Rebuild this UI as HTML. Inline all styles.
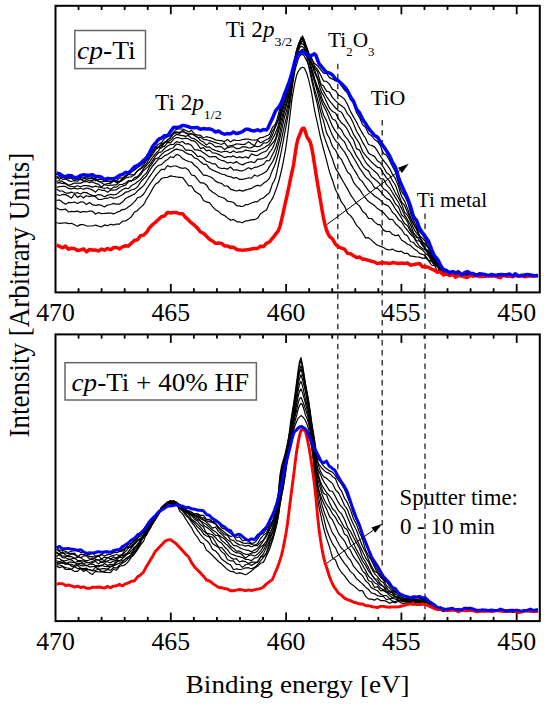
<!DOCTYPE html>
<html><head><meta charset="utf-8"><style>
html,body{margin:0;padding:0;background:#fff;overflow:hidden;}
svg{display:block;}
text{font-family:"Liberation Serif",serif;fill:#000;}
</style></head><body>
<svg width="544" height="707" viewBox="0 0 544 707">
<rect width="544" height="707" fill="#fff"/>
<rect x="55.5" y="5.8" width="484.29999999999995" height="286.59999999999997" fill="none" stroke="#000" stroke-width="2"/>
<line x1="78.56" y1="292.4" x2="78.56" y2="288.2" stroke="#000" stroke-width="1.8"/>
<line x1="78.56" y1="5.8" x2="78.56" y2="10.0" stroke="#000" stroke-width="1.8"/>
<line x1="101.62" y1="292.4" x2="101.62" y2="288.2" stroke="#000" stroke-width="1.8"/>
<line x1="101.62" y1="5.8" x2="101.62" y2="10.0" stroke="#000" stroke-width="1.8"/>
<line x1="124.68" y1="292.4" x2="124.68" y2="288.2" stroke="#000" stroke-width="1.8"/>
<line x1="124.68" y1="5.8" x2="124.68" y2="10.0" stroke="#000" stroke-width="1.8"/>
<line x1="147.74" y1="292.4" x2="147.74" y2="288.2" stroke="#000" stroke-width="1.8"/>
<line x1="147.74" y1="5.8" x2="147.74" y2="10.0" stroke="#000" stroke-width="1.8"/>
<line x1="170.80" y1="292.4" x2="170.80" y2="283.9" stroke="#000" stroke-width="1.8"/>
<line x1="170.80" y1="5.8" x2="170.80" y2="14.3" stroke="#000" stroke-width="1.8"/>
<line x1="193.86" y1="292.4" x2="193.86" y2="288.2" stroke="#000" stroke-width="1.8"/>
<line x1="193.86" y1="5.8" x2="193.86" y2="10.0" stroke="#000" stroke-width="1.8"/>
<line x1="216.92" y1="292.4" x2="216.92" y2="288.2" stroke="#000" stroke-width="1.8"/>
<line x1="216.92" y1="5.8" x2="216.92" y2="10.0" stroke="#000" stroke-width="1.8"/>
<line x1="239.98" y1="292.4" x2="239.98" y2="288.2" stroke="#000" stroke-width="1.8"/>
<line x1="239.98" y1="5.8" x2="239.98" y2="10.0" stroke="#000" stroke-width="1.8"/>
<line x1="263.04" y1="292.4" x2="263.04" y2="288.2" stroke="#000" stroke-width="1.8"/>
<line x1="263.04" y1="5.8" x2="263.04" y2="10.0" stroke="#000" stroke-width="1.8"/>
<line x1="286.10" y1="292.4" x2="286.10" y2="283.9" stroke="#000" stroke-width="1.8"/>
<line x1="286.10" y1="5.8" x2="286.10" y2="14.3" stroke="#000" stroke-width="1.8"/>
<line x1="309.16" y1="292.4" x2="309.16" y2="288.2" stroke="#000" stroke-width="1.8"/>
<line x1="309.16" y1="5.8" x2="309.16" y2="10.0" stroke="#000" stroke-width="1.8"/>
<line x1="332.22" y1="292.4" x2="332.22" y2="288.2" stroke="#000" stroke-width="1.8"/>
<line x1="332.22" y1="5.8" x2="332.22" y2="10.0" stroke="#000" stroke-width="1.8"/>
<line x1="355.28" y1="292.4" x2="355.28" y2="288.2" stroke="#000" stroke-width="1.8"/>
<line x1="355.28" y1="5.8" x2="355.28" y2="10.0" stroke="#000" stroke-width="1.8"/>
<line x1="378.34" y1="292.4" x2="378.34" y2="288.2" stroke="#000" stroke-width="1.8"/>
<line x1="378.34" y1="5.8" x2="378.34" y2="10.0" stroke="#000" stroke-width="1.8"/>
<line x1="401.40" y1="292.4" x2="401.40" y2="283.9" stroke="#000" stroke-width="1.8"/>
<line x1="401.40" y1="5.8" x2="401.40" y2="14.3" stroke="#000" stroke-width="1.8"/>
<line x1="424.46" y1="292.4" x2="424.46" y2="288.2" stroke="#000" stroke-width="1.8"/>
<line x1="424.46" y1="5.8" x2="424.46" y2="10.0" stroke="#000" stroke-width="1.8"/>
<line x1="447.52" y1="292.4" x2="447.52" y2="288.2" stroke="#000" stroke-width="1.8"/>
<line x1="447.52" y1="5.8" x2="447.52" y2="10.0" stroke="#000" stroke-width="1.8"/>
<line x1="470.58" y1="292.4" x2="470.58" y2="288.2" stroke="#000" stroke-width="1.8"/>
<line x1="470.58" y1="5.8" x2="470.58" y2="10.0" stroke="#000" stroke-width="1.8"/>
<line x1="493.64" y1="292.4" x2="493.64" y2="288.2" stroke="#000" stroke-width="1.8"/>
<line x1="493.64" y1="5.8" x2="493.64" y2="10.0" stroke="#000" stroke-width="1.8"/>
<line x1="516.70" y1="292.4" x2="516.70" y2="283.9" stroke="#000" stroke-width="1.8"/>
<line x1="516.70" y1="5.8" x2="516.70" y2="14.3" stroke="#000" stroke-width="1.8"/>
<rect x="55.5" y="334.4" width="484.29999999999995" height="286.70000000000005" fill="none" stroke="#000" stroke-width="2"/>
<line x1="78.56" y1="621.1" x2="78.56" y2="616.9" stroke="#000" stroke-width="1.8"/>
<line x1="78.56" y1="334.4" x2="78.56" y2="338.59999999999997" stroke="#000" stroke-width="1.8"/>
<line x1="101.62" y1="621.1" x2="101.62" y2="616.9" stroke="#000" stroke-width="1.8"/>
<line x1="101.62" y1="334.4" x2="101.62" y2="338.59999999999997" stroke="#000" stroke-width="1.8"/>
<line x1="124.68" y1="621.1" x2="124.68" y2="616.9" stroke="#000" stroke-width="1.8"/>
<line x1="124.68" y1="334.4" x2="124.68" y2="338.59999999999997" stroke="#000" stroke-width="1.8"/>
<line x1="147.74" y1="621.1" x2="147.74" y2="616.9" stroke="#000" stroke-width="1.8"/>
<line x1="147.74" y1="334.4" x2="147.74" y2="338.59999999999997" stroke="#000" stroke-width="1.8"/>
<line x1="170.80" y1="621.1" x2="170.80" y2="612.6" stroke="#000" stroke-width="1.8"/>
<line x1="170.80" y1="334.4" x2="170.80" y2="342.9" stroke="#000" stroke-width="1.8"/>
<line x1="193.86" y1="621.1" x2="193.86" y2="616.9" stroke="#000" stroke-width="1.8"/>
<line x1="193.86" y1="334.4" x2="193.86" y2="338.59999999999997" stroke="#000" stroke-width="1.8"/>
<line x1="216.92" y1="621.1" x2="216.92" y2="616.9" stroke="#000" stroke-width="1.8"/>
<line x1="216.92" y1="334.4" x2="216.92" y2="338.59999999999997" stroke="#000" stroke-width="1.8"/>
<line x1="239.98" y1="621.1" x2="239.98" y2="616.9" stroke="#000" stroke-width="1.8"/>
<line x1="239.98" y1="334.4" x2="239.98" y2="338.59999999999997" stroke="#000" stroke-width="1.8"/>
<line x1="263.04" y1="621.1" x2="263.04" y2="616.9" stroke="#000" stroke-width="1.8"/>
<line x1="263.04" y1="334.4" x2="263.04" y2="338.59999999999997" stroke="#000" stroke-width="1.8"/>
<line x1="286.10" y1="621.1" x2="286.10" y2="612.6" stroke="#000" stroke-width="1.8"/>
<line x1="286.10" y1="334.4" x2="286.10" y2="342.9" stroke="#000" stroke-width="1.8"/>
<line x1="309.16" y1="621.1" x2="309.16" y2="616.9" stroke="#000" stroke-width="1.8"/>
<line x1="309.16" y1="334.4" x2="309.16" y2="338.59999999999997" stroke="#000" stroke-width="1.8"/>
<line x1="332.22" y1="621.1" x2="332.22" y2="616.9" stroke="#000" stroke-width="1.8"/>
<line x1="332.22" y1="334.4" x2="332.22" y2="338.59999999999997" stroke="#000" stroke-width="1.8"/>
<line x1="355.28" y1="621.1" x2="355.28" y2="616.9" stroke="#000" stroke-width="1.8"/>
<line x1="355.28" y1="334.4" x2="355.28" y2="338.59999999999997" stroke="#000" stroke-width="1.8"/>
<line x1="378.34" y1="621.1" x2="378.34" y2="616.9" stroke="#000" stroke-width="1.8"/>
<line x1="378.34" y1="334.4" x2="378.34" y2="338.59999999999997" stroke="#000" stroke-width="1.8"/>
<line x1="401.40" y1="621.1" x2="401.40" y2="612.6" stroke="#000" stroke-width="1.8"/>
<line x1="401.40" y1="334.4" x2="401.40" y2="342.9" stroke="#000" stroke-width="1.8"/>
<line x1="424.46" y1="621.1" x2="424.46" y2="616.9" stroke="#000" stroke-width="1.8"/>
<line x1="424.46" y1="334.4" x2="424.46" y2="338.59999999999997" stroke="#000" stroke-width="1.8"/>
<line x1="447.52" y1="621.1" x2="447.52" y2="616.9" stroke="#000" stroke-width="1.8"/>
<line x1="447.52" y1="334.4" x2="447.52" y2="338.59999999999997" stroke="#000" stroke-width="1.8"/>
<line x1="470.58" y1="621.1" x2="470.58" y2="616.9" stroke="#000" stroke-width="1.8"/>
<line x1="470.58" y1="334.4" x2="470.58" y2="338.59999999999997" stroke="#000" stroke-width="1.8"/>
<line x1="493.64" y1="621.1" x2="493.64" y2="616.9" stroke="#000" stroke-width="1.8"/>
<line x1="493.64" y1="334.4" x2="493.64" y2="338.59999999999997" stroke="#000" stroke-width="1.8"/>
<line x1="516.70" y1="621.1" x2="516.70" y2="612.6" stroke="#000" stroke-width="1.8"/>
<line x1="516.70" y1="334.4" x2="516.70" y2="342.9" stroke="#000" stroke-width="1.8"/>
<line x1="337.8" y1="63.7" x2="337.8" y2="471.5" stroke="#222" stroke-width="1.3" stroke-dasharray="5.5,4.5"/>
<line x1="382.2" y1="120.1" x2="382.2" y2="569.5" stroke="#222" stroke-width="1.3" stroke-dasharray="5.5,4.5"/>
<line x1="425.0" y1="213.5" x2="425.0" y2="620" stroke="#222" stroke-width="1.3" stroke-dasharray="5.5,4.5"/>
<path d="M56.5,222.6 58.0,223.0 59.5,223.3 61.0,223.2 62.5,223.1 64.0,223.0 65.5,222.8 67.0,223.2 68.5,223.6 70.0,223.5 71.5,223.4 73.0,224.0 74.5,224.7 76.0,225.5 77.5,226.2 79.0,225.4 80.5,224.6 82.0,224.7 83.5,224.7 85.0,225.3 86.5,226.0 88.0,226.0 89.5,226.0 91.0,226.0 92.5,225.9 94.0,225.5 95.5,225.0 97.0,225.6 98.5,226.1 100.0,226.5 101.5,226.9 103.0,225.9 104.5,224.9 106.0,225.3 107.5,225.7 109.0,225.0 110.5,224.3 112.0,224.6 113.5,224.9 115.0,224.6 116.5,224.0 118.0,224.2 119.5,224.2 121.0,222.7 122.5,221.2 124.0,221.0 125.5,220.9 127.0,220.0 128.5,219.0 130.0,217.9 131.5,216.7 133.0,214.4 134.5,212.0 136.0,211.4 137.5,210.5 139.0,208.9 140.5,207.4 142.0,206.1 143.5,204.8 145.0,202.3 146.5,199.1 148.0,196.7 149.5,194.4 151.0,191.7 152.5,188.9 154.0,186.5 155.5,184.2 157.0,183.1 158.5,182.4 160.0,180.3 161.5,178.5 163.0,178.0 164.5,177.7 166.0,177.5 167.5,177.5 169.0,176.6 170.5,175.8 172.0,176.1 173.5,176.5 175.0,176.7 176.5,177.0 178.0,177.2 179.5,177.4 181.0,177.3 182.5,177.5 184.0,179.3 185.5,181.3 187.0,183.5 188.5,185.7 190.0,185.8 191.5,185.8 193.0,188.3 194.5,190.9 196.0,191.9 197.5,192.9 199.0,194.0 200.5,195.0 202.0,197.8 203.5,200.5 205.0,201.2 206.5,201.9 208.0,202.3 209.5,202.7 211.0,204.7 212.5,206.7 214.0,208.2 215.5,209.7 217.0,210.6 218.5,211.3 220.0,212.8 221.5,214.3 223.0,214.9 224.5,215.5 226.0,216.7 227.5,217.9 229.0,219.0 230.5,220.1 232.0,219.8 233.5,219.4 235.0,220.6 236.5,221.6 238.0,221.8 239.5,221.8 241.0,222.3 242.5,222.6 244.0,221.8 245.5,220.9 247.0,220.8 248.5,220.6 250.0,220.2 251.5,219.8 253.0,219.7 254.5,219.6 256.0,219.0 257.5,218.3 259.0,216.1 260.5,213.7 262.0,212.8 263.5,211.6 265.0,210.8 266.5,209.9 268.0,206.5 269.5,202.8 271.0,200.8 272.5,198.4 274.0,195.0 275.5,190.9 277.0,186.8 278.5,182.3 280.0,176.5 281.5,170.3 283.0,163.1 284.5,155.2 286.0,146.6 287.5,135.7 289.0,123.7 290.5,111.2 292.0,98.8 293.5,90.0 295.0,82.1 296.5,75.5 298.0,71.8 299.5,69.5 301.0,67.9 302.5,67.3 304.0,67.8 305.5,70.4 307.0,74.0 308.5,79.1 310.0,85.3 311.5,92.1 313.0,101.1 314.5,110.0 316.0,116.9 317.5,123.3 319.0,130.5 320.5,137.5 322.0,143.2 323.5,149.0 325.0,154.7 326.5,160.2 328.0,166.2 329.5,171.9 331.0,176.3 332.5,180.2 334.0,185.1 335.5,189.5 337.0,192.5 338.5,195.3 340.0,198.8 341.5,202.2 343.0,204.2 344.5,206.1 346.0,209.6 347.5,213.0 349.0,214.4 350.5,215.7 352.0,217.7 353.5,219.7 355.0,222.6 356.5,225.3 358.0,226.9 359.5,228.3 361.0,230.5 362.5,232.7 364.0,235.3 365.5,237.9 367.0,237.8 368.5,237.6 370.0,238.9 371.5,240.1 373.0,241.6 374.5,243.1 376.0,244.2 377.5,245.3 379.0,245.8 380.5,246.2 382.0,246.9 383.5,247.5 385.0,248.5 386.5,249.4 388.0,249.7 389.5,250.0 391.0,249.6 392.5,249.1 394.0,250.0 395.5,250.8 397.0,251.1 398.5,251.6 400.0,251.4 401.5,251.3 403.0,252.4 404.5,253.5 406.0,253.4 407.5,253.3 409.0,254.7 410.5,256.1 412.0,256.2 413.5,256.3 415.0,256.6 416.5,257.0 418.0,257.0 419.5,257.1 421.0,257.7 422.5,258.4 424.0,258.0 425.5,257.7 427.0,259.0 428.5,260.6 430.0,262.8 431.5,265.0 433.0,265.3 434.5,265.5 436.0,268.2 437.5,270.7 439.0,270.6 440.5,270.4 442.0,272.6 443.5,274.7 445.0,274.4 446.5,273.9 448.0,274.8 449.5,275.7 451.0,275.2 452.5,275.1 454.0,274.8 455.5,274.4 457.0,275.2 458.5,275.9 460.0,276.0 461.5,276.1 463.0,275.8 464.5,275.4 466.0,275.4 467.5,275.4 469.0,275.4 470.5,275.4 472.0,275.2 473.5,275.0 475.0,275.5 476.5,276.0 478.0,275.6 479.5,275.2 481.0,275.4 482.5,275.5 484.0,275.3 485.5,275.1 487.0,275.1 488.5,275.2 490.0,275.0 491.5,274.9 493.0,275.5 494.5,276.1 496.0,275.8 497.5,275.4 499.0,275.7 500.5,276.0 502.0,275.7 503.5,275.5 505.0,275.3 506.5,275.2 508.0,275.2 509.5,275.3 511.0,275.3 512.5,275.2 514.0,275.4 515.5,275.5 517.0,275.4 518.5,275.3 520.0,275.3 521.5,275.4 523.0,275.1 524.5,274.8 526.0,275.0 527.5,275.1 529.0,275.7 530.5,276.3 532.0,275.7 533.5,275.2 535.0,275.1 536.5,275.0 538.0,275.3" fill="none" stroke="#000" stroke-width="1.2" stroke-linejoin="round"/>
<path d="M56.5,207.7 58.0,208.7 59.5,209.6 61.0,209.6 62.5,209.7 64.0,209.4 65.5,209.0 67.0,210.5 68.5,211.9 70.0,211.7 71.5,211.4 73.0,211.6 74.5,211.7 76.0,211.4 77.5,211.1 79.0,211.7 80.5,212.4 82.0,211.9 83.5,211.5 85.0,211.7 86.5,212.0 88.0,211.5 89.5,211.1 91.0,211.2 92.5,211.3 94.0,212.7 95.5,214.1 97.0,213.3 98.5,212.5 100.0,213.1 101.5,213.6 103.0,213.5 104.5,213.4 106.0,213.3 107.5,213.1 109.0,213.1 110.5,213.0 112.0,213.4 113.5,213.9 115.0,213.3 116.5,212.4 118.0,211.9 119.5,211.2 121.0,210.4 122.5,209.6 124.0,209.3 125.5,209.1 127.0,208.0 128.5,206.8 130.0,205.8 131.5,204.7 133.0,203.2 134.5,201.6 136.0,199.8 137.5,197.7 139.0,197.2 140.5,196.9 142.0,195.5 143.5,194.2 145.0,192.0 146.5,189.2 148.0,187.0 149.5,184.7 151.0,182.5 152.5,180.3 154.0,178.1 155.5,176.0 157.0,174.2 158.5,172.7 160.0,170.9 161.5,169.3 163.0,169.4 164.5,169.6 166.0,167.5 167.5,165.6 169.0,166.2 170.5,167.0 172.0,166.5 173.5,166.0 175.0,166.0 176.5,166.2 178.0,166.8 179.5,167.6 181.0,167.8 182.5,168.4 184.0,168.0 185.5,167.9 187.0,168.9 188.5,170.0 190.0,172.5 191.5,175.0 193.0,175.3 194.5,175.6 196.0,177.4 197.5,179.3 199.0,181.1 200.5,182.8 202.0,182.9 203.5,182.9 205.0,183.9 206.5,184.9 208.0,187.4 209.5,189.8 211.0,190.8 212.5,191.9 214.0,192.9 215.5,193.9 217.0,195.1 218.5,196.3 220.0,196.8 221.5,197.3 223.0,197.8 224.5,198.4 226.0,199.8 227.5,201.2 229.0,201.5 230.5,201.7 232.0,202.0 233.5,202.3 235.0,204.0 236.5,205.7 238.0,205.8 239.5,205.9 241.0,206.3 242.5,206.5 244.0,205.7 245.5,204.7 247.0,204.6 248.5,204.3 250.0,203.7 251.5,203.0 253.0,202.5 254.5,201.9 256.0,201.9 257.5,201.7 259.0,200.4 260.5,199.0 262.0,198.5 263.5,197.9 265.0,196.5 266.5,195.1 268.0,194.1 269.5,192.6 271.0,188.2 272.5,183.6 274.0,181.2 275.5,177.8 277.0,171.3 278.5,164.4 280.0,157.6 281.5,150.5 283.0,142.4 284.5,134.3 286.0,126.9 287.5,118.4 289.0,109.4 290.5,100.3 292.0,89.5 293.5,78.9 295.0,70.4 296.5,64.7 298.0,59.8 299.5,56.3 301.0,54.7 302.5,54.5 304.0,55.5 305.5,58.4 307.0,61.1 308.5,65.4 310.0,72.5 311.5,79.6 313.0,86.1 314.5,92.8 316.0,98.9 317.5,104.8 319.0,112.8 320.5,120.8 322.0,128.5 323.5,134.5 325.0,138.9 326.5,143.2 328.0,147.3 329.5,151.2 331.0,155.4 332.5,159.3 334.0,163.8 335.5,168.1 337.0,170.6 338.5,173.1 340.0,175.9 341.5,178.6 343.0,181.2 344.5,183.8 346.0,186.4 347.5,188.9 349.0,191.8 350.5,194.6 352.0,196.9 353.5,199.0 355.0,201.1 356.5,203.1 358.0,204.6 359.5,205.9 361.0,208.6 362.5,211.3 364.0,212.5 365.5,213.6 367.0,216.1 368.5,218.4 370.0,218.5 371.5,218.5 373.0,220.2 374.5,221.9 376.0,223.1 377.5,224.3 379.0,224.7 380.5,225.1 382.0,227.7 383.5,230.1 385.0,230.9 386.5,231.6 388.0,231.5 389.5,231.4 391.0,232.8 392.5,234.3 394.0,235.0 395.5,235.7 397.0,235.3 398.5,234.9 400.0,237.5 401.5,240.0 403.0,240.9 404.5,241.8 406.0,243.0 407.5,244.2 409.0,244.8 410.5,245.4 412.0,247.0 413.5,248.4 415.0,249.4 416.5,250.4 418.0,251.9 419.5,253.4 421.0,253.9 422.5,254.3 424.0,255.0 425.5,255.8 427.0,257.8 428.5,260.0 430.0,260.6 431.5,261.4 433.0,263.4 434.5,265.2 436.0,265.9 437.5,266.6 439.0,269.7 440.5,272.7 442.0,273.6 443.5,274.2 445.0,274.7 446.5,275.0 448.0,275.1 449.5,275.1 451.0,274.8 452.5,274.7 454.0,274.9 455.5,275.0 457.0,274.9 458.5,274.9 460.0,274.9 461.5,275.0 463.0,275.1 464.5,275.2 466.0,275.6 467.5,276.0 469.0,275.8 470.5,275.5 472.0,275.4 473.5,275.3 475.0,275.1 476.5,275.0 478.0,275.0 479.5,275.0 481.0,275.6 482.5,276.2 484.0,275.9 485.5,275.6 487.0,275.5 488.5,275.4 490.0,275.3 491.5,275.2 493.0,275.1 494.5,274.9 496.0,275.1 497.5,275.4 499.0,275.7 500.5,275.9 502.0,275.6 503.5,275.3 505.0,275.3 506.5,275.4 508.0,275.4 509.5,275.4 511.0,275.5 512.5,275.6 514.0,275.1 515.5,274.7 517.0,275.1 518.5,275.4 520.0,275.2 521.5,275.1 523.0,275.5 524.5,276.0 526.0,275.6 527.5,275.1 529.0,275.5 530.5,275.8 532.0,276.1 533.5,276.3 535.0,275.8 536.5,275.4 538.0,275.3" fill="none" stroke="#000" stroke-width="1.2" stroke-linejoin="round"/>
<path d="M56.5,200.3 58.0,200.2 59.5,200.0 61.0,201.1 62.5,202.2 64.0,203.2 65.5,204.3 67.0,203.4 68.5,202.4 70.0,202.6 71.5,202.7 73.0,202.4 74.5,202.0 76.0,202.8 77.5,203.5 79.0,202.7 80.5,201.9 82.0,202.0 83.5,202.1 85.0,203.3 86.5,204.6 88.0,203.5 89.5,202.5 91.0,203.6 92.5,204.7 94.0,205.1 95.5,205.5 97.0,205.1 98.5,204.7 100.0,205.0 101.5,205.3 103.0,206.2 104.5,207.0 106.0,206.0 107.5,205.0 109.0,204.8 110.5,204.5 112.0,204.0 113.5,203.4 115.0,203.8 116.5,204.1 118.0,204.2 119.5,204.2 121.0,203.1 122.5,202.0 124.0,200.3 125.5,198.5 127.0,197.7 128.5,196.9 130.0,196.2 131.5,195.4 133.0,194.8 134.5,194.1 136.0,192.6 137.5,190.8 139.0,189.5 140.5,188.2 142.0,187.0 143.5,185.6 145.0,183.7 146.5,181.3 148.0,179.0 149.5,176.7 151.0,174.6 152.5,172.5 154.0,170.2 155.5,168.1 157.0,166.6 158.5,165.5 160.0,165.0 161.5,164.7 163.0,163.1 164.5,161.6 166.0,160.6 167.5,159.6 169.0,158.1 170.5,156.7 172.0,157.2 173.5,157.6 175.0,155.9 176.5,154.5 178.0,154.9 179.5,155.3 181.0,156.8 182.5,158.6 184.0,159.3 185.5,160.2 187.0,160.8 188.5,161.5 190.0,161.8 191.5,162.0 193.0,163.7 194.5,165.5 196.0,166.5 197.5,167.6 199.0,169.5 200.5,171.3 202.0,173.3 203.5,175.2 205.0,175.3 206.5,175.4 208.0,176.0 209.5,176.5 211.0,177.3 212.5,178.1 214.0,179.6 215.5,181.1 217.0,181.9 218.5,182.7 220.0,183.0 221.5,183.3 223.0,184.6 224.5,186.0 226.0,186.0 227.5,185.9 229.0,187.5 230.5,189.2 232.0,189.6 233.5,190.1 235.0,190.6 236.5,191.0 238.0,190.6 239.5,190.1 241.0,190.6 242.5,191.1 244.0,190.6 245.5,190.1 247.0,189.7 248.5,189.2 250.0,188.8 251.5,188.4 253.0,187.5 254.5,186.5 256.0,185.9 257.5,185.3 259.0,185.7 260.5,186.0 262.0,184.6 263.5,183.2 265.0,182.2 266.5,181.2 268.0,179.9 269.5,178.1 271.0,174.1 272.5,170.0 274.0,167.1 275.5,163.2 277.0,158.1 278.5,152.5 280.0,146.0 281.5,139.3 283.0,132.2 284.5,125.3 286.0,119.3 287.5,112.4 289.0,104.0 290.5,95.3 292.0,85.6 293.5,74.6 295.0,65.7 296.5,59.9 298.0,55.8 299.5,53.0 301.0,50.3 302.5,49.2 304.0,49.9 305.5,52.5 307.0,58.0 308.5,64.9 310.0,70.4 311.5,75.8 313.0,82.4 314.5,89.1 316.0,94.2 317.5,99.1 319.0,105.0 320.5,111.0 322.0,116.7 323.5,120.6 325.0,126.8 326.5,132.9 328.0,135.6 329.5,138.1 331.0,142.5 332.5,146.5 334.0,148.4 335.5,150.1 337.0,153.2 338.5,156.2 340.0,157.9 341.5,159.5 343.0,162.7 344.5,165.8 346.0,168.9 347.5,172.1 349.0,173.5 350.5,174.9 352.0,178.5 353.5,182.1 355.0,184.2 356.5,186.2 358.0,187.8 359.5,189.2 361.0,191.6 362.5,194.0 364.0,196.0 365.5,197.9 367.0,199.8 368.5,201.5 370.0,202.6 371.5,203.5 373.0,204.5 374.5,205.6 376.0,207.1 377.5,208.6 379.0,209.6 380.5,210.5 382.0,211.6 383.5,212.6 385.0,214.4 386.5,216.2 388.0,217.8 389.5,219.5 391.0,219.4 392.5,219.5 394.0,221.5 395.5,223.7 397.0,225.0 398.5,226.4 400.0,228.0 401.5,229.4 403.0,231.8 404.5,234.2 406.0,235.1 407.5,236.0 409.0,238.7 410.5,241.5 412.0,242.0 413.5,242.4 415.0,244.3 416.5,246.2 418.0,247.1 419.5,248.0 421.0,248.9 422.5,249.8 424.0,251.6 425.5,253.5 427.0,254.5 428.5,255.8 430.0,258.1 431.5,260.6 433.0,262.4 434.5,264.0 436.0,265.2 437.5,266.2 439.0,268.3 440.5,270.3 442.0,271.7 443.5,272.7 445.0,273.8 446.5,274.6 448.0,273.9 449.5,273.2 451.0,274.0 452.5,274.4 454.0,274.1 455.5,273.8 457.0,274.4 458.5,275.1 460.0,274.7 461.5,274.3 463.0,274.2 464.5,274.1 466.0,274.5 467.5,275.0 469.0,275.3 470.5,275.6 472.0,275.0 473.5,274.4 475.0,274.5 476.5,274.6 478.0,274.7 479.5,274.8 481.0,274.8 482.5,274.7 484.0,275.1 485.5,275.5 487.0,275.2 488.5,274.9 490.0,275.0 491.5,275.0 493.0,275.3 494.5,275.7 496.0,275.3 497.5,275.0 499.0,275.3 500.5,275.6 502.0,275.3 503.5,275.0 505.0,274.9 506.5,274.9 508.0,274.7 509.5,274.6 511.0,275.5 512.5,276.4 514.0,275.9 515.5,275.4 517.0,275.5 518.5,275.7 520.0,275.6 521.5,275.5 523.0,275.6 524.5,275.6 526.0,275.6 527.5,275.6 529.0,276.0 530.5,276.5 532.0,275.8 533.5,275.0 535.0,274.9 536.5,274.8 538.0,274.9" fill="none" stroke="#000" stroke-width="1.2" stroke-linejoin="round"/>
<path d="M56.5,194.6 58.0,195.0 59.5,195.5 61.0,195.0 62.5,194.4 64.0,194.6 65.5,194.6 67.0,195.4 68.5,196.1 70.0,197.2 71.5,198.1 73.0,196.1 74.5,194.0 76.0,195.7 77.5,197.4 79.0,196.6 80.5,195.8 82.0,196.8 83.5,197.9 85.0,196.8 86.5,195.7 88.0,196.2 89.5,196.6 91.0,196.1 92.5,195.7 94.0,196.2 95.5,196.7 97.0,198.1 98.5,199.5 100.0,199.5 101.5,199.4 103.0,199.0 104.5,198.5 106.0,198.4 107.5,198.2 109.0,197.7 110.5,197.0 112.0,197.6 113.5,198.1 115.0,198.0 116.5,197.7 118.0,197.0 119.5,196.3 121.0,195.5 122.5,194.8 124.0,193.5 125.5,192.2 127.0,191.9 128.5,191.6 130.0,190.7 131.5,189.8 133.0,189.5 134.5,189.1 136.0,188.1 137.5,187.0 139.0,184.6 140.5,182.1 142.0,180.5 143.5,178.8 145.0,177.5 146.5,175.8 148.0,173.2 149.5,170.7 151.0,168.4 152.5,166.2 154.0,164.5 155.5,162.9 157.0,160.8 158.5,158.9 160.0,158.6 161.5,158.4 163.0,157.0 164.5,155.8 166.0,155.1 167.5,154.5 169.0,153.5 170.5,152.6 172.0,151.5 173.5,150.4 175.0,149.6 176.5,149.1 178.0,149.4 179.5,150.0 181.0,150.1 182.5,150.5 184.0,151.5 185.5,152.7 187.0,153.4 188.5,154.2 190.0,154.5 191.5,154.6 193.0,156.3 194.5,158.0 196.0,158.4 197.5,158.8 199.0,160.3 200.5,161.8 202.0,163.0 203.5,164.2 205.0,164.3 206.5,164.4 208.0,166.4 209.5,168.4 211.0,169.2 212.5,170.1 214.0,170.8 215.5,171.4 217.0,172.0 218.5,172.6 220.0,173.3 221.5,174.0 223.0,174.3 224.5,174.5 226.0,175.4 227.5,176.2 229.0,176.5 230.5,176.7 232.0,177.4 233.5,178.1 235.0,177.8 236.5,177.5 238.0,178.5 239.5,179.4 241.0,179.4 242.5,179.3 244.0,179.0 245.5,178.7 247.0,178.3 248.5,177.8 250.0,178.0 251.5,178.1 253.0,176.6 254.5,175.0 256.0,175.7 257.5,176.2 259.0,175.5 260.5,174.8 262.0,174.0 263.5,173.2 265.0,172.3 266.5,171.2 268.0,169.1 269.5,166.4 271.0,164.2 272.5,161.7 274.0,158.9 275.5,155.2 277.0,149.9 278.5,144.0 280.0,137.5 281.5,130.9 283.0,123.8 284.5,117.0 286.0,112.2 287.5,106.8 289.0,100.2 290.5,93.2 292.0,85.0 293.5,74.7 295.0,64.9 296.5,58.5 298.0,52.5 299.5,47.7 301.0,46.3 302.5,46.7 304.0,48.2 305.5,51.6 307.0,54.2 308.5,58.2 310.0,65.3 311.5,72.0 313.0,76.6 314.5,81.4 316.0,86.8 317.5,92.1 319.0,97.7 320.5,103.4 322.0,109.9 323.5,114.7 325.0,117.7 326.5,120.6 328.0,124.4 329.5,128.2 331.0,132.0 332.5,135.5 334.0,138.1 335.5,140.5 337.0,142.1 338.5,143.6 340.0,146.0 341.5,148.2 343.0,150.1 344.5,151.9 346.0,154.6 347.5,157.3 349.0,160.5 350.5,163.6 352.0,166.1 353.5,168.7 355.0,171.1 356.5,173.4 358.0,176.3 359.5,179.0 361.0,180.4 362.5,181.7 364.0,184.2 365.5,186.5 367.0,188.7 368.5,190.7 370.0,191.9 371.5,193.1 373.0,194.5 374.5,196.0 376.0,197.0 377.5,198.1 379.0,199.1 380.5,200.2 382.0,201.9 383.5,203.7 385.0,204.4 386.5,205.1 388.0,206.1 389.5,207.2 391.0,209.8 392.5,212.4 394.0,213.7 395.5,215.2 397.0,217.4 398.5,219.7 400.0,220.8 401.5,221.8 403.0,224.3 404.5,226.8 406.0,228.5 407.5,230.3 409.0,232.3 410.5,234.3 412.0,235.7 413.5,236.9 415.0,239.5 416.5,242.0 418.0,244.1 419.5,246.1 421.0,247.3 422.5,248.4 424.0,249.3 425.5,250.2 427.0,252.1 428.5,254.2 430.0,256.7 431.5,259.3 433.0,259.8 434.5,260.1 436.0,263.3 437.5,266.4 439.0,268.5 440.5,270.5 442.0,271.9 443.5,273.0 445.0,274.1 446.5,275.0 448.0,275.0 449.5,274.9 451.0,274.4 452.5,274.3 454.0,274.5 455.5,274.6 457.0,274.8 458.5,275.0 460.0,274.7 461.5,274.4 463.0,274.6 464.5,274.8 466.0,275.1 467.5,275.3 469.0,275.6 470.5,275.9 472.0,275.4 473.5,274.9 475.0,275.0 476.5,275.0 478.0,275.1 479.5,275.2 481.0,275.5 482.5,275.8 484.0,275.5 485.5,275.2 487.0,275.6 488.5,276.0 490.0,275.4 491.5,274.8 493.0,275.0 494.5,275.2 496.0,275.3 497.5,275.3 499.0,275.5 500.5,275.8 502.0,275.9 503.5,276.0 505.0,275.3 506.5,274.7 508.0,274.9 509.5,275.0 511.0,275.4 512.5,275.7 514.0,275.4 515.5,275.2 517.0,275.0 518.5,274.8 520.0,275.4 521.5,276.1 523.0,275.9 524.5,275.8 526.0,275.8 527.5,275.8 529.0,275.6 530.5,275.3 532.0,275.7 533.5,276.1 535.0,275.8 536.5,275.5 538.0,275.8" fill="none" stroke="#000" stroke-width="1.2" stroke-linejoin="round"/>
<path d="M56.5,189.1 58.0,190.1 59.5,191.1 61.0,191.0 62.5,191.0 64.0,192.0 65.5,193.0 67.0,193.1 68.5,193.1 70.0,192.6 71.5,192.1 73.0,192.7 74.5,193.2 76.0,193.0 77.5,192.7 79.0,193.4 80.5,194.0 82.0,193.2 83.5,192.4 85.0,192.5 86.5,192.6 88.0,193.4 89.5,194.3 91.0,194.9 92.5,195.6 94.0,195.7 95.5,195.9 97.0,195.2 98.5,194.5 100.0,194.8 101.5,195.1 103.0,196.0 104.5,196.8 106.0,196.1 107.5,195.3 109.0,194.9 110.5,194.3 112.0,194.7 113.5,194.9 115.0,194.7 116.5,194.4 118.0,193.1 119.5,191.8 121.0,190.7 122.5,189.5 124.0,188.9 125.5,188.2 127.0,188.5 128.5,188.7 130.0,187.1 131.5,185.5 133.0,184.8 134.5,184.0 136.0,183.0 137.5,181.8 139.0,180.6 140.5,179.4 142.0,177.6 143.5,175.7 145.0,174.4 146.5,172.9 148.0,169.9 149.5,166.9 151.0,165.1 152.5,163.2 154.0,160.9 155.5,158.7 157.0,158.2 158.5,157.8 160.0,156.1 161.5,154.4 163.0,153.1 164.5,151.8 166.0,151.0 167.5,150.4 169.0,149.6 170.5,148.8 172.0,148.3 173.5,147.7 175.0,145.7 176.5,144.0 178.0,144.3 179.5,144.7 181.0,145.3 182.5,146.0 184.0,148.0 185.5,150.1 187.0,150.1 188.5,150.1 190.0,150.3 191.5,150.5 193.0,151.7 194.5,153.0 196.0,154.7 197.5,156.5 199.0,156.4 200.5,156.2 202.0,157.1 203.5,158.0 205.0,159.7 206.5,161.3 208.0,161.8 209.5,162.2 211.0,163.0 212.5,163.8 214.0,163.9 215.5,163.9 217.0,165.8 218.5,167.6 220.0,168.0 221.5,168.5 223.0,168.4 224.5,168.2 226.0,168.7 227.5,169.1 229.0,168.0 230.5,166.9 232.0,168.5 233.5,170.1 235.0,170.0 236.5,169.7 238.0,170.2 239.5,170.6 241.0,170.8 242.5,170.8 244.0,170.2 245.5,169.5 247.0,168.6 248.5,167.7 250.0,168.4 251.5,169.1 253.0,168.2 254.5,167.3 256.0,167.1 257.5,166.9 259.0,166.2 260.5,165.5 262.0,165.0 263.5,164.4 265.0,162.5 266.5,160.5 268.0,160.8 269.5,160.5 271.0,157.6 272.5,154.5 274.0,151.8 275.5,148.2 277.0,143.8 278.5,138.7 280.0,131.6 281.5,124.4 283.0,117.7 284.5,111.5 286.0,106.7 287.5,101.5 289.0,95.4 290.5,88.7 292.0,81.6 293.5,71.7 295.0,62.3 296.5,56.6 298.0,50.3 299.5,45.2 301.0,43.7 302.5,44.0 304.0,45.2 305.5,48.3 307.0,53.1 308.5,59.1 310.0,64.2 311.5,68.9 313.0,73.8 314.5,78.8 316.0,83.7 317.5,88.5 319.0,93.0 320.5,97.7 322.0,102.6 323.5,106.0 325.0,108.8 326.5,111.6 328.0,115.5 329.5,119.4 331.0,123.0 332.5,126.4 334.0,128.9 335.5,131.2 337.0,133.1 338.5,135.0 340.0,136.9 341.5,138.8 343.0,140.3 344.5,141.9 346.0,145.2 347.5,148.8 349.0,150.6 350.5,152.5 352.0,155.1 353.5,157.7 355.0,160.3 356.5,162.8 358.0,165.5 359.5,168.1 361.0,170.2 362.5,172.3 364.0,174.7 365.5,176.9 367.0,178.3 368.5,179.4 370.0,181.1 371.5,182.7 373.0,185.3 374.5,187.9 376.0,188.1 377.5,188.4 379.0,189.8 380.5,191.3 382.0,193.2 383.5,195.2 385.0,196.8 386.5,198.4 388.0,199.1 389.5,199.8 391.0,201.9 392.5,204.1 394.0,206.6 395.5,209.2 397.0,211.2 398.5,213.4 400.0,215.7 401.5,217.9 403.0,220.8 404.5,223.6 406.0,224.6 407.5,225.7 409.0,228.5 410.5,231.4 412.0,233.4 413.5,235.3 415.0,238.2 416.5,241.0 418.0,240.9 419.5,240.8 421.0,243.1 422.5,245.3 424.0,246.9 425.5,248.5 427.0,250.8 428.5,253.4 430.0,255.6 431.5,257.9 433.0,260.7 434.5,263.4 436.0,263.9 437.5,264.2 439.0,267.3 440.5,270.2 442.0,271.2 443.5,271.7 445.0,272.1 446.5,272.3 448.0,273.2 449.5,274.1 451.0,273.7 452.5,273.6 454.0,273.4 455.5,273.2 457.0,273.8 458.5,274.2 460.0,274.0 461.5,273.8 463.0,274.1 464.5,274.3 466.0,274.6 467.5,274.9 469.0,275.0 470.5,275.0 472.0,275.4 473.5,275.7 475.0,275.3 476.5,274.9 478.0,274.6 479.5,274.3 481.0,274.5 482.5,274.7 484.0,274.7 485.5,274.7 487.0,274.7 488.5,274.6 490.0,275.0 491.5,275.5 493.0,275.2 494.5,275.0 496.0,274.7 497.5,274.4 499.0,275.0 500.5,275.7 502.0,275.6 503.5,275.4 505.0,275.5 506.5,275.6 508.0,275.6 509.5,275.5 511.0,275.7 512.5,275.8 514.0,275.7 515.5,275.5 517.0,275.9 518.5,276.2 520.0,276.0 521.5,275.8 523.0,275.8 524.5,275.8 526.0,275.8 527.5,275.8 529.0,275.3 530.5,274.9 532.0,275.2 533.5,275.5 535.0,275.5 536.5,275.5 538.0,275.6" fill="none" stroke="#000" stroke-width="1.2" stroke-linejoin="round"/>
<path d="M56.5,187.3 58.0,187.0 59.5,186.7 61.0,186.5 62.5,186.3 64.0,186.4 65.5,186.5 67.0,187.5 68.5,188.4 70.0,188.6 71.5,188.8 73.0,188.5 74.5,188.2 76.0,188.6 77.5,189.0 79.0,188.6 80.5,188.2 82.0,188.7 83.5,189.3 85.0,188.6 86.5,188.0 88.0,188.3 89.5,188.7 91.0,189.4 92.5,190.1 94.0,191.1 95.5,192.2 97.0,190.7 98.5,189.2 100.0,189.8 101.5,190.3 103.0,190.3 104.5,190.3 106.0,191.3 107.5,192.2 109.0,191.2 110.5,190.1 112.0,190.2 113.5,190.1 115.0,190.0 116.5,189.7 118.0,188.6 119.5,187.5 121.0,186.8 122.5,186.1 124.0,185.6 125.5,185.1 127.0,183.5 128.5,181.8 130.0,181.3 131.5,180.7 133.0,180.3 134.5,179.7 136.0,178.8 137.5,177.8 139.0,176.3 140.5,174.8 142.0,172.6 143.5,170.4 145.0,169.4 146.5,168.1 148.0,166.6 149.5,165.0 151.0,162.8 152.5,160.6 154.0,158.3 155.5,156.2 157.0,154.3 158.5,152.5 160.0,152.1 161.5,151.8 163.0,150.1 164.5,148.5 166.0,147.3 167.5,146.0 169.0,145.3 170.5,144.6 172.0,144.5 173.5,144.5 175.0,142.9 176.5,141.6 178.0,142.0 179.5,142.6 181.0,142.0 182.5,141.5 184.0,142.7 185.5,144.0 187.0,143.8 188.5,143.7 190.0,144.6 191.5,145.4 193.0,147.5 194.5,149.7 196.0,149.8 197.5,149.9 199.0,150.3 200.5,150.6 202.0,151.7 203.5,152.7 205.0,153.8 206.5,154.8 208.0,155.9 209.5,157.0 211.0,156.8 212.5,156.6 214.0,156.6 215.5,156.5 217.0,157.8 218.5,159.0 220.0,159.7 221.5,160.3 223.0,160.7 224.5,161.1 226.0,162.0 227.5,162.9 229.0,162.6 230.5,162.3 232.0,162.8 233.5,163.2 235.0,162.4 236.5,161.6 238.0,162.7 239.5,163.7 241.0,164.3 242.5,164.9 244.0,164.1 245.5,163.3 247.0,162.8 248.5,162.3 250.0,162.0 251.5,161.7 253.0,162.2 254.5,162.7 256.0,161.0 257.5,159.2 259.0,159.2 260.5,159.1 262.0,158.8 263.5,158.5 265.0,157.8 266.5,157.1 268.0,155.0 269.5,152.4 271.0,150.5 272.5,148.3 274.0,144.9 275.5,140.8 277.0,136.3 278.5,131.2 280.0,125.2 281.5,119.0 283.0,113.1 284.5,107.7 286.0,103.6 287.5,99.2 289.0,94.4 290.5,88.9 292.0,81.2 293.5,69.9 295.0,60.4 296.5,54.7 298.0,49.9 299.5,46.1 301.0,42.5 302.5,40.7 304.0,43.7 305.5,48.4 307.0,51.7 308.5,56.1 310.0,62.3 311.5,68.0 313.0,73.2 314.5,78.4 316.0,82.6 317.5,86.8 319.0,90.0 320.5,93.4 322.0,98.4 323.5,102.0 325.0,104.7 326.5,107.4 328.0,110.2 329.5,112.9 331.0,116.0 332.5,119.0 334.0,119.7 335.5,120.4 337.0,123.6 338.5,126.9 340.0,128.4 341.5,129.9 343.0,132.8 344.5,135.7 346.0,137.4 347.5,139.2 349.0,141.4 350.5,143.7 352.0,146.8 353.5,150.0 355.0,152.9 356.5,155.9 358.0,158.1 359.5,160.3 361.0,162.9 362.5,165.6 364.0,167.4 365.5,169.0 367.0,170.1 368.5,170.9 370.0,173.8 371.5,176.6 373.0,177.8 374.5,179.0 376.0,180.2 377.5,181.4 379.0,183.0 380.5,184.6 382.0,186.7 383.5,188.9 385.0,189.8 386.5,190.8 388.0,192.4 389.5,194.0 391.0,196.1 392.5,198.3 394.0,201.1 395.5,204.0 397.0,205.4 398.5,206.8 400.0,210.8 401.5,214.6 403.0,216.0 404.5,217.4 406.0,219.5 407.5,221.8 409.0,225.6 410.5,229.5 412.0,231.4 413.5,233.1 415.0,234.6 416.5,236.0 418.0,238.3 419.5,240.5 421.0,242.9 422.5,245.3 424.0,247.1 425.5,248.9 427.0,249.9 428.5,251.2 430.0,253.9 431.5,256.8 433.0,259.5 434.5,262.0 436.0,263.4 437.5,264.7 439.0,267.2 440.5,269.5 442.0,270.8 443.5,271.7 445.0,272.1 446.5,272.2 448.0,272.6 449.5,272.9 451.0,273.6 452.5,273.9 454.0,274.1 455.5,274.2 457.0,274.1 458.5,274.0 460.0,274.1 461.5,274.2 463.0,274.7 464.5,275.1 466.0,275.0 467.5,274.8 469.0,275.0 470.5,275.2 472.0,275.3 473.5,275.4 475.0,275.3 476.5,275.2 478.0,275.7 479.5,276.1 481.0,275.4 482.5,274.6 484.0,275.1 485.5,275.5 487.0,275.3 488.5,275.0 490.0,275.6 491.5,276.2 493.0,276.1 494.5,276.1 496.0,275.2 497.5,274.4 499.0,274.6 500.5,274.9 502.0,275.3 503.5,275.7 505.0,275.8 506.5,275.8 508.0,275.8 509.5,275.8 511.0,275.7 512.5,275.5 514.0,275.6 515.5,275.8 517.0,275.8 518.5,275.9 520.0,275.7 521.5,275.5 523.0,275.8 524.5,276.1 526.0,275.3 527.5,274.5 529.0,275.2 530.5,275.9 532.0,275.5 533.5,275.1 535.0,275.6 536.5,276.1 538.0,275.8" fill="none" stroke="#000" stroke-width="1.2" stroke-linejoin="round"/>
<path d="M56.5,182.9 58.0,182.8 59.5,182.6 61.0,183.1 62.5,183.5 64.0,183.6 65.5,183.6 67.0,184.7 68.5,185.7 70.0,186.1 71.5,186.4 73.0,186.7 74.5,186.9 76.0,186.3 77.5,185.7 79.0,186.2 80.5,186.8 82.0,186.2 83.5,185.7 85.0,185.6 86.5,185.5 88.0,185.8 89.5,186.2 91.0,186.6 92.5,187.1 94.0,186.6 95.5,186.2 97.0,186.6 98.5,186.9 100.0,187.3 101.5,187.6 103.0,188.0 104.5,188.3 106.0,188.0 107.5,187.6 109.0,188.5 110.5,189.3 112.0,188.3 113.5,187.2 115.0,187.2 116.5,187.1 118.0,185.9 119.5,184.6 121.0,184.5 122.5,184.4 124.0,183.7 125.5,183.0 127.0,181.8 128.5,180.6 130.0,180.9 131.5,181.2 133.0,179.5 134.5,177.6 136.0,177.1 137.5,176.6 139.0,174.9 140.5,173.1 142.0,171.0 143.5,168.7 145.0,167.2 146.5,165.4 148.0,163.7 149.5,162.0 151.0,159.7 152.5,157.5 154.0,155.6 155.5,153.9 157.0,152.2 158.5,150.7 160.0,148.7 161.5,146.9 163.0,146.6 164.5,146.4 166.0,144.4 167.5,142.4 169.0,142.7 170.5,143.0 172.0,141.2 173.5,139.3 175.0,138.2 176.5,137.5 178.0,137.6 179.5,138.0 181.0,138.4 182.5,139.0 184.0,138.5 185.5,138.1 187.0,138.5 188.5,138.9 190.0,139.8 191.5,140.7 193.0,140.9 194.5,141.2 196.0,142.7 197.5,144.2 199.0,146.4 200.5,148.6 202.0,148.1 203.5,147.6 205.0,149.2 206.5,150.8 208.0,150.4 209.5,150.0 211.0,151.4 212.5,152.8 214.0,153.0 215.5,153.2 217.0,153.8 218.5,154.4 220.0,155.1 221.5,155.8 223.0,156.7 224.5,157.6 226.0,157.1 227.5,156.5 229.0,156.7 230.5,156.8 232.0,156.4 233.5,155.9 235.0,156.8 236.5,157.7 238.0,157.3 239.5,156.9 241.0,157.4 242.5,157.9 244.0,157.3 245.5,156.7 247.0,157.4 248.5,158.1 250.0,156.0 251.5,153.9 253.0,154.5 254.5,155.1 256.0,155.3 257.5,155.6 259.0,154.6 260.5,153.5 262.0,152.8 263.5,152.0 265.0,151.6 266.5,151.0 268.0,149.0 269.5,146.5 271.0,145.0 272.5,143.2 274.0,141.4 275.5,138.8 277.0,133.6 278.5,127.8 280.0,120.9 281.5,113.9 283.0,108.8 284.5,104.4 286.0,100.4 287.5,96.3 289.0,92.2 290.5,87.5 292.0,80.2 293.5,69.0 295.0,59.0 296.5,53.0 298.0,48.4 299.5,44.9 301.0,42.0 302.5,41.1 304.0,42.9 305.5,46.5 307.0,50.1 308.5,54.6 310.0,59.3 311.5,63.4 313.0,68.0 314.5,72.6 316.0,75.7 317.5,78.9 319.0,84.3 320.5,89.8 322.0,93.2 323.5,95.3 325.0,98.6 326.5,101.8 328.0,105.0 329.5,108.1 331.0,109.9 332.5,111.5 334.0,112.3 335.5,113.0 337.0,115.9 338.5,118.8 340.0,120.9 341.5,123.1 343.0,124.2 344.5,125.3 346.0,127.4 347.5,129.8 349.0,132.8 350.5,136.0 352.0,137.9 353.5,139.9 355.0,144.3 356.5,148.6 358.0,149.4 359.5,150.1 361.0,153.2 362.5,156.4 364.0,159.2 365.5,161.8 367.0,163.8 368.5,165.5 370.0,167.1 371.5,168.6 373.0,169.9 374.5,171.3 376.0,172.5 377.5,173.9 379.0,176.3 380.5,178.7 382.0,178.8 383.5,179.0 385.0,181.8 386.5,184.7 388.0,186.2 389.5,187.8 391.0,190.3 392.5,192.8 394.0,195.1 395.5,197.7 397.0,200.0 398.5,202.4 400.0,205.5 401.5,208.4 403.0,211.7 404.5,214.9 406.0,217.2 407.5,219.7 409.0,222.1 410.5,224.5 412.0,228.7 413.5,232.7 415.0,235.1 416.5,237.3 418.0,237.5 419.5,237.5 421.0,240.3 422.5,243.1 424.0,246.0 425.5,248.9 427.0,249.9 428.5,251.2 430.0,253.4 431.5,255.7 433.0,258.1 434.5,260.3 436.0,262.4 437.5,264.2 439.0,266.5 440.5,268.6 442.0,270.0 443.5,270.9 445.0,272.2 446.5,273.3 448.0,273.1 449.5,272.8 451.0,273.3 452.5,273.5 454.0,273.5 455.5,273.4 457.0,273.8 458.5,274.2 460.0,274.0 461.5,273.9 463.0,274.1 464.5,274.4 466.0,274.7 467.5,275.1 469.0,275.0 470.5,274.9 472.0,274.9 473.5,275.0 475.0,275.0 476.5,275.0 478.0,275.0 479.5,275.0 481.0,275.0 482.5,274.9 484.0,274.9 485.5,274.9 487.0,275.2 488.5,275.5 490.0,275.1 491.5,274.7 493.0,275.3 494.5,275.9 496.0,275.6 497.5,275.3 499.0,275.2 500.5,275.0 502.0,275.1 503.5,275.2 505.0,275.1 506.5,275.1 508.0,275.3 509.5,275.6 511.0,275.4 512.5,275.1 514.0,275.6 515.5,276.1 517.0,275.6 518.5,275.2 520.0,274.8 521.5,274.4 523.0,274.8 524.5,275.2 526.0,274.9 527.5,274.6 529.0,275.1 530.5,275.6 532.0,275.9 533.5,276.2 535.0,276.1 536.5,276.0 538.0,275.5" fill="none" stroke="#000" stroke-width="1.2" stroke-linejoin="round"/>
<path d="M56.5,181.2 58.0,181.0 59.5,180.8 61.0,181.1 62.5,181.4 64.0,182.4 65.5,183.2 67.0,184.2 68.5,185.2 70.0,184.7 71.5,184.2 73.0,183.6 74.5,183.0 76.0,183.1 77.5,183.2 79.0,183.2 80.5,183.3 82.0,182.6 83.5,181.9 85.0,181.7 86.5,181.4 88.0,182.0 89.5,182.6 91.0,182.2 92.5,181.9 94.0,182.7 95.5,183.4 97.0,183.8 98.5,184.2 100.0,185.7 101.5,187.1 103.0,185.8 104.5,184.4 106.0,185.0 107.5,185.4 109.0,185.3 110.5,185.1 112.0,185.2 113.5,185.1 115.0,184.9 116.5,184.7 118.0,183.3 119.5,181.9 121.0,181.1 122.5,180.3 124.0,179.2 125.5,178.0 127.0,177.6 128.5,177.1 130.0,177.0 131.5,176.8 133.0,175.6 134.5,174.4 136.0,172.7 137.5,171.0 139.0,170.0 140.5,169.0 142.0,167.9 143.5,166.7 145.0,165.3 146.5,163.6 148.0,161.0 149.5,158.4 151.0,156.5 152.5,154.7 154.0,152.1 155.5,149.6 157.0,148.5 158.5,147.5 160.0,147.7 161.5,147.9 163.0,144.9 164.5,142.0 166.0,141.9 167.5,141.8 169.0,141.1 170.5,140.2 172.0,138.6 173.5,136.9 175.0,135.5 176.5,134.4 178.0,134.7 179.5,135.1 181.0,135.3 182.5,135.6 184.0,135.9 185.5,136.3 187.0,135.9 188.5,135.5 190.0,136.8 191.5,138.2 193.0,138.4 194.5,138.8 196.0,139.9 197.5,141.0 199.0,142.3 200.5,143.5 202.0,144.5 203.5,145.5 205.0,146.3 206.5,147.1 208.0,147.1 209.5,146.9 211.0,148.1 212.5,149.3 214.0,149.9 215.5,150.5 217.0,150.9 218.5,151.3 220.0,151.8 221.5,152.2 223.0,151.7 224.5,151.2 226.0,151.4 227.5,151.6 229.0,152.2 230.5,152.8 232.0,151.8 233.5,150.8 235.0,151.7 236.5,152.5 238.0,152.1 239.5,151.8 241.0,151.8 242.5,151.8 244.0,151.0 245.5,150.1 247.0,150.4 248.5,150.6 250.0,150.9 251.5,151.1 253.0,151.3 254.5,151.5 256.0,151.3 257.5,151.0 259.0,150.1 260.5,149.2 262.0,148.7 263.5,148.1 265.0,147.2 266.5,146.1 268.0,145.3 269.5,144.0 271.0,141.5 272.5,138.7 274.0,136.1 275.5,132.9 277.0,129.1 278.5,124.7 280.0,118.1 281.5,111.5 283.0,105.8 284.5,100.9 286.0,97.3 287.5,93.7 289.0,89.1 290.5,83.9 292.0,78.0 293.5,67.8 295.0,58.9 296.5,54.0 298.0,48.0 299.5,43.1 301.0,39.3 302.5,37.6 304.0,41.1 305.5,46.5 307.0,50.7 308.5,55.8 310.0,59.7 311.5,62.9 313.0,66.5 314.5,70.0 316.0,73.7 317.5,77.3 319.0,81.1 320.5,84.9 322.0,88.6 323.5,91.3 325.0,93.9 326.5,96.5 328.0,98.7 329.5,100.8 331.0,102.7 332.5,104.4 334.0,106.2 335.5,108.0 337.0,109.3 338.5,110.8 340.0,111.5 341.5,112.3 343.0,114.9 344.5,117.7 346.0,120.1 347.5,122.7 349.0,125.0 350.5,127.5 352.0,130.8 353.5,134.3 355.0,136.6 356.5,138.8 358.0,141.4 359.5,143.8 361.0,147.5 362.5,151.3 364.0,153.4 365.5,155.3 367.0,157.1 368.5,158.5 370.0,160.3 371.5,162.0 373.0,163.3 374.5,164.8 376.0,166.0 377.5,167.3 379.0,167.7 380.5,168.1 382.0,170.9 383.5,173.7 385.0,175.7 386.5,177.8 388.0,179.5 389.5,181.4 391.0,184.1 392.5,187.0 394.0,190.0 395.5,193.2 397.0,195.5 398.5,198.0 400.0,200.9 401.5,203.5 403.0,207.8 404.5,212.1 406.0,213.7 407.5,215.3 409.0,218.1 410.5,220.9 412.0,224.8 413.5,228.3 415.0,230.9 416.5,233.2 418.0,234.8 419.5,236.4 421.0,239.2 422.5,241.9 424.0,243.2 425.5,244.5 427.0,246.3 428.5,248.4 430.0,251.4 431.5,254.7 433.0,257.7 434.5,260.6 436.0,262.2 437.5,263.6 439.0,266.3 440.5,268.8 442.0,270.3 443.5,271.2 445.0,273.2 446.5,275.2 448.0,273.8 449.5,272.4 451.0,273.5 452.5,274.3 454.0,274.1 455.5,273.9 457.0,274.0 458.5,274.0 460.0,274.3 461.5,274.6 463.0,274.7 464.5,274.8 466.0,275.0 467.5,275.1 469.0,274.9 470.5,274.8 472.0,274.6 473.5,274.4 475.0,274.5 476.5,274.5 478.0,274.8 479.5,275.1 481.0,275.2 482.5,275.2 484.0,275.5 485.5,275.7 487.0,275.5 488.5,275.3 490.0,275.5 491.5,275.7 493.0,275.8 494.5,276.0 496.0,275.7 497.5,275.4 499.0,275.0 500.5,274.6 502.0,274.7 503.5,274.8 505.0,274.8 506.5,274.7 508.0,275.5 509.5,276.3 511.0,275.7 512.5,275.1 514.0,275.6 515.5,276.2 517.0,276.0 518.5,275.9 520.0,276.2 521.5,276.4 523.0,276.3 524.5,276.1 526.0,275.8 527.5,275.6 529.0,275.6 530.5,275.5 532.0,275.6 533.5,275.7 535.0,275.7 536.5,275.7 538.0,275.6" fill="none" stroke="#000" stroke-width="1.2" stroke-linejoin="round"/>
<path d="M56.5,178.6 58.0,177.5 59.5,176.4 61.0,177.9 62.5,179.3 64.0,179.2 65.5,179.0 67.0,179.8 68.5,180.6 70.0,181.1 71.5,181.4 73.0,181.0 74.5,180.5 76.0,180.9 77.5,181.2 79.0,180.0 80.5,178.7 82.0,180.0 83.5,181.3 85.0,180.4 86.5,179.5 88.0,180.1 89.5,180.8 91.0,180.7 92.5,180.7 94.0,179.6 95.5,178.5 97.0,179.8 98.5,181.0 100.0,181.9 101.5,182.7 103.0,183.7 104.5,184.6 106.0,184.1 107.5,183.5 109.0,183.5 110.5,183.3 112.0,182.2 113.5,180.9 115.0,181.8 116.5,182.7 118.0,182.3 119.5,181.8 121.0,180.3 122.5,178.8 124.0,178.0 125.5,177.2 127.0,175.7 128.5,174.2 130.0,174.6 131.5,174.9 133.0,174.9 134.5,174.8 136.0,172.7 137.5,170.5 139.0,169.6 140.5,168.6 142.0,166.9 143.5,165.1 145.0,162.7 146.5,160.0 148.0,159.2 149.5,158.3 151.0,155.0 152.5,151.8 154.0,150.4 155.5,149.3 157.0,148.1 158.5,147.1 160.0,146.2 161.5,145.3 163.0,144.0 164.5,142.7 166.0,141.7 167.5,140.6 169.0,138.9 170.5,137.2 172.0,135.5 173.5,133.7 175.0,133.1 176.5,133.0 178.0,132.4 179.5,132.1 181.0,132.0 182.5,131.9 184.0,132.2 185.5,132.6 187.0,133.4 188.5,134.2 190.0,133.9 191.5,133.7 193.0,134.5 194.5,135.5 196.0,136.2 197.5,137.0 199.0,138.8 200.5,140.5 202.0,141.3 203.5,142.2 205.0,143.7 206.5,145.1 208.0,143.9 209.5,142.7 211.0,143.5 212.5,144.3 214.0,145.6 215.5,146.8 217.0,146.6 218.5,146.4 220.0,146.6 221.5,146.9 223.0,148.2 224.5,149.4 226.0,148.5 227.5,147.6 229.0,147.3 230.5,147.0 232.0,146.9 233.5,146.9 235.0,147.8 236.5,148.6 238.0,148.6 239.5,148.5 241.0,147.6 242.5,146.7 244.0,146.8 245.5,146.8 247.0,147.4 248.5,148.0 250.0,147.9 251.5,147.7 253.0,146.8 254.5,146.0 256.0,146.4 257.5,146.7 259.0,146.4 260.5,146.0 262.0,144.5 263.5,142.8 265.0,143.0 266.5,143.0 268.0,142.0 269.5,140.5 271.0,137.8 272.5,134.9 274.0,131.1 275.5,126.8 277.0,123.5 278.5,119.6 280.0,114.5 281.5,109.5 283.0,105.1 284.5,101.6 286.0,96.2 287.5,90.7 289.0,89.2 290.5,87.0 292.0,79.4 293.5,67.2 295.0,58.0 296.5,52.9 298.0,47.5 299.5,43.2 301.0,40.1 302.5,39.1 304.0,41.3 305.5,45.2 307.0,48.4 308.5,52.5 310.0,57.9 311.5,62.4 313.0,65.1 314.5,67.6 316.0,69.8 317.5,71.8 319.0,77.4 320.5,83.0 322.0,85.0 323.5,86.0 325.0,88.6 326.5,91.1 328.0,91.7 329.5,92.1 331.0,94.9 332.5,97.6 334.0,99.1 335.5,100.7 337.0,102.2 338.5,103.8 340.0,104.7 341.5,105.7 343.0,107.0 344.5,108.3 346.0,111.0 347.5,113.9 349.0,115.6 350.5,117.4 352.0,120.4 353.5,123.6 355.0,127.5 356.5,131.3 358.0,133.7 359.5,135.9 361.0,139.0 362.5,142.1 364.0,144.6 365.5,147.0 367.0,150.1 368.5,152.9 370.0,154.0 371.5,155.0 373.0,155.6 374.5,156.4 376.0,158.6 377.5,161.0 379.0,161.8 380.5,162.8 382.0,165.0 383.5,167.3 385.0,169.9 386.5,172.7 388.0,173.7 389.5,174.9 391.0,177.8 392.5,180.7 394.0,182.8 395.5,185.3 397.0,189.4 398.5,193.7 400.0,197.9 401.5,201.9 403.0,203.7 404.5,205.4 406.0,208.9 407.5,212.5 409.0,215.3 410.5,218.2 412.0,221.5 413.5,224.3 415.0,227.0 416.5,229.4 418.0,233.0 419.5,236.6 421.0,239.3 422.5,241.9 424.0,243.0 425.5,244.1 427.0,245.7 428.5,247.4 430.0,250.8 431.5,254.3 433.0,256.6 434.5,258.8 436.0,261.7 437.5,264.6 439.0,266.6 440.5,268.4 442.0,270.2 443.5,271.3 445.0,272.1 446.5,272.7 448.0,272.6 449.5,272.3 451.0,273.0 452.5,273.3 454.0,273.1 455.5,272.9 457.0,273.4 458.5,273.8 460.0,273.6 461.5,273.4 463.0,273.8 464.5,274.2 466.0,274.1 467.5,273.9 469.0,274.2 470.5,274.6 472.0,274.7 473.5,274.8 475.0,274.4 476.5,274.0 478.0,274.2 479.5,274.4 481.0,274.4 482.5,274.4 484.0,274.9 485.5,275.4 487.0,275.6 488.5,275.9 490.0,275.7 491.5,275.6 493.0,275.3 494.5,275.0 496.0,275.5 497.5,276.0 499.0,275.3 500.5,274.6 502.0,275.4 503.5,276.1 505.0,275.6 506.5,275.1 508.0,274.6 509.5,274.1 511.0,275.5 512.5,276.8 514.0,276.6 515.5,276.3 517.0,275.7 518.5,275.1 520.0,275.4 521.5,275.7 523.0,275.6 524.5,275.5 526.0,275.6 527.5,275.7 529.0,275.3 530.5,274.9 532.0,275.1 533.5,275.3 535.0,275.6 536.5,275.9 538.0,275.8" fill="none" stroke="#000" stroke-width="1.2" stroke-linejoin="round"/>
<path d="M56.5,175.9 58.0,177.6 59.5,179.3 61.0,178.3 62.5,177.2 64.0,178.1 65.5,179.0 67.0,178.2 68.5,177.3 70.0,177.8 71.5,178.2 73.0,179.5 74.5,180.7 76.0,179.5 77.5,178.3 79.0,179.0 80.5,179.7 82.0,179.3 83.5,178.9 85.0,178.4 86.5,177.9 88.0,178.2 89.5,178.6 91.0,178.7 92.5,178.8 94.0,179.1 95.5,179.4 97.0,180.4 98.5,181.4 100.0,181.7 101.5,182.0 103.0,181.7 104.5,181.3 106.0,181.3 107.5,181.2 109.0,181.8 110.5,182.2 112.0,181.7 113.5,181.1 115.0,181.1 116.5,181.1 118.0,181.3 119.5,181.5 121.0,180.0 122.5,178.5 124.0,177.4 125.5,176.2 127.0,175.4 128.5,174.5 130.0,173.3 131.5,172.0 133.0,171.1 134.5,170.0 136.0,168.9 137.5,167.6 139.0,166.7 140.5,165.7 142.0,164.4 143.5,162.9 145.0,161.8 146.5,160.6 148.0,158.0 149.5,155.4 151.0,153.5 152.5,151.6 154.0,149.3 155.5,147.2 157.0,147.2 158.5,147.3 160.0,145.5 161.5,143.8 163.0,143.3 164.5,142.9 166.0,141.3 167.5,139.7 169.0,138.9 170.5,138.0 172.0,135.7 173.5,133.2 175.0,132.4 176.5,131.9 178.0,132.7 179.5,133.8 181.0,131.9 182.5,130.2 184.0,131.6 185.5,133.1 187.0,133.7 188.5,134.3 190.0,134.0 191.5,133.8 193.0,134.5 194.5,135.3 196.0,136.4 197.5,137.5 199.0,137.4 200.5,137.2 202.0,138.4 203.5,139.6 205.0,139.6 206.5,139.5 208.0,140.2 209.5,140.7 211.0,141.1 212.5,141.5 214.0,142.1 215.5,142.6 217.0,143.1 218.5,143.5 220.0,144.0 221.5,144.3 223.0,143.6 224.5,142.8 226.0,144.6 227.5,146.4 229.0,146.0 230.5,145.6 232.0,145.4 233.5,145.1 235.0,144.6 236.5,143.9 238.0,144.0 239.5,144.1 241.0,144.3 242.5,144.5 244.0,144.3 245.5,144.1 247.0,142.9 248.5,141.7 250.0,142.8 251.5,143.9 253.0,144.8 254.5,145.7 256.0,143.0 257.5,140.3 259.0,141.5 260.5,142.7 262.0,142.0 263.5,141.2 265.0,140.5 266.5,139.5 268.0,139.0 269.5,137.9 271.0,134.4 272.5,130.8 274.0,128.5 275.5,125.7 277.0,122.4 278.5,118.3 280.0,112.0 281.5,105.7 283.0,101.0 284.5,97.2 286.0,94.3 287.5,91.3 289.0,87.5 290.5,83.0 292.0,78.6 293.5,69.3 295.0,57.7 296.5,50.3 298.0,45.6 299.5,42.0 301.0,37.9 302.5,36.0 304.0,39.5 305.5,44.9 307.0,48.4 308.5,52.6 310.0,55.6 311.5,57.6 313.0,61.8 314.5,65.8 316.0,67.7 317.5,69.5 319.0,72.1 320.5,74.8 322.0,78.1 323.5,80.8 325.0,81.1 326.5,81.3 328.0,82.9 329.5,84.3 331.0,86.9 332.5,89.4 334.0,90.0 335.5,90.6 337.0,92.7 338.5,94.9 340.0,95.8 341.5,96.8 343.0,97.9 344.5,99.2 346.0,101.7 347.5,104.5 349.0,107.9 350.5,111.4 352.0,114.1 353.5,116.9 355.0,119.5 356.5,122.1 358.0,125.2 359.5,128.0 361.0,130.7 362.5,133.4 364.0,135.8 365.5,138.0 367.0,141.4 368.5,144.5 370.0,145.0 371.5,145.3 373.0,146.1 374.5,146.9 376.0,148.9 377.5,151.1 379.0,153.7 380.5,156.3 382.0,158.4 383.5,160.5 385.0,162.3 386.5,164.2 388.0,166.3 389.5,168.4 391.0,171.3 392.5,174.4 394.0,176.4 395.5,178.7 397.0,182.6 398.5,186.6 400.0,191.5 401.5,196.0 403.0,198.6 404.5,201.1 406.0,204.8 407.5,208.6 409.0,212.7 410.5,216.9 412.0,220.2 413.5,223.2 415.0,225.8 416.5,228.1 418.0,231.7 419.5,235.2 421.0,236.9 422.5,238.4 424.0,240.1 425.5,241.7 427.0,244.6 428.5,247.6 430.0,250.2 431.5,252.9 433.0,255.2 434.5,257.4 436.0,260.4 437.5,263.2 439.0,265.5 440.5,267.6 442.0,268.5 443.5,268.7 445.0,270.2 446.5,271.7 448.0,272.1 449.5,272.4 451.0,272.9 452.5,273.1 454.0,273.0 455.5,272.8 457.0,273.3 458.5,273.7 460.0,273.8 461.5,274.0 463.0,274.1 464.5,274.2 466.0,274.0 467.5,273.7 469.0,274.2 470.5,274.7 472.0,274.3 473.5,273.9 475.0,274.2 476.5,274.5 478.0,275.0 479.5,275.4 481.0,275.0 482.5,274.5 484.0,274.6 485.5,274.7 487.0,275.1 488.5,275.6 490.0,275.2 491.5,274.9 493.0,275.0 494.5,275.0 496.0,275.2 497.5,275.4 499.0,275.6 500.5,275.9 502.0,275.0 503.5,274.2 505.0,274.6 506.5,275.0 508.0,275.0 509.5,275.0 511.0,275.0 512.5,275.0 514.0,275.0 515.5,275.1 517.0,275.1 518.5,275.1 520.0,275.5 521.5,275.8 523.0,275.5 524.5,275.2 526.0,275.4 527.5,275.7 529.0,275.8 530.5,275.9 532.0,275.6 533.5,275.3 535.0,275.5 536.5,275.7 538.0,276.1" fill="none" stroke="#000" stroke-width="1.2" stroke-linejoin="round"/>
<path d="M56.5,173.9 58.0,174.8 59.5,175.7 61.0,175.8 62.5,175.8 64.0,176.9 65.5,177.8 67.0,178.5 68.5,179.0 70.0,178.3 71.5,177.5 73.0,177.8 74.5,178.0 76.0,178.7 77.5,179.3 79.0,178.4 80.5,177.5 82.0,177.7 83.5,178.0 85.0,177.3 86.5,176.7 88.0,176.8 89.5,176.9 91.0,177.2 92.5,177.6 94.0,179.2 95.5,180.9 97.0,180.0 98.5,179.1 100.0,179.4 101.5,179.7 103.0,179.9 104.5,180.2 106.0,180.5 107.5,180.8 109.0,181.2 110.5,181.4 112.0,180.9 113.5,180.2 115.0,180.6 116.5,181.0 118.0,179.4 119.5,177.9 121.0,177.9 122.5,177.9 124.0,176.7 125.5,175.4 127.0,174.8 128.5,174.1 130.0,172.2 131.5,170.3 133.0,170.0 134.5,169.6 136.0,168.6 137.5,167.4 139.0,166.1 140.5,164.8 142.0,162.5 143.5,160.1 145.0,159.9 146.5,159.6 148.0,157.0 149.5,154.3 151.0,152.3 152.5,150.3 154.0,148.6 155.5,147.0 157.0,145.6 158.5,144.3 160.0,143.4 161.5,142.6 163.0,140.6 164.5,138.7 166.0,137.7 167.5,136.8 169.0,136.2 170.5,135.6 172.0,134.0 173.5,132.3 175.0,130.6 176.5,129.4 178.0,129.0 179.5,129.0 181.0,129.0 182.5,129.0 184.0,129.6 185.5,130.2 187.0,131.1 188.5,132.0 190.0,131.2 191.5,130.4 193.0,132.2 194.5,134.1 196.0,134.6 197.5,135.1 199.0,135.2 200.5,135.3 202.0,136.6 203.5,137.8 205.0,137.3 206.5,136.7 208.0,137.1 209.5,137.3 211.0,137.9 212.5,138.4 214.0,139.1 215.5,139.9 217.0,140.2 218.5,140.4 220.0,140.6 221.5,140.7 223.0,141.1 224.5,141.5 226.0,140.5 227.5,139.4 229.0,140.7 230.5,141.9 232.0,140.9 233.5,139.9 235.0,140.2 236.5,140.5 238.0,140.5 239.5,140.5 241.0,140.0 242.5,139.5 244.0,139.3 245.5,139.1 247.0,139.1 248.5,139.2 250.0,139.5 251.5,139.9 253.0,140.0 254.5,140.1 256.0,139.9 257.5,139.6 259.0,138.6 260.5,137.6 262.0,137.4 263.5,137.1 265.0,136.5 266.5,135.8 268.0,135.3 269.5,134.1 271.0,130.7 272.5,127.2 274.0,125.9 275.5,124.1 277.0,119.4 278.5,113.9 280.0,108.4 281.5,103.0 283.0,99.2 284.5,96.2 286.0,93.6 287.5,91.1 289.0,87.5 290.5,83.1 292.0,78.3 293.5,68.4 295.0,57.4 296.5,50.8 298.0,45.8 299.5,41.7 301.0,38.7 302.5,37.9 304.0,39.8 305.5,43.6 307.0,48.3 308.5,53.4 310.0,56.7 311.5,59.0 313.0,61.3 314.5,63.3 316.0,64.6 317.5,65.7 319.0,67.6 320.5,69.4 322.0,71.3 323.5,73.2 325.0,73.4 326.5,73.5 328.0,75.6 329.5,77.6 331.0,78.4 332.5,79.1 334.0,80.0 335.5,81.0 337.0,81.0 338.5,81.0 340.0,83.4 341.5,86.0 343.0,88.0 344.5,90.2 346.0,91.4 347.5,93.1 349.0,96.3 350.5,99.7 352.0,101.3 353.5,103.1 355.0,107.8 356.5,112.6 358.0,115.0 359.5,117.3 361.0,121.0 362.5,124.6 364.0,126.0 365.5,127.2 367.0,130.6 368.5,133.7 370.0,134.7 371.5,135.6 373.0,137.5 374.5,139.5 376.0,140.4 377.5,141.4 379.0,143.7 380.5,146.0 382.0,149.7 383.5,153.4 385.0,154.3 386.5,155.2 388.0,157.7 389.5,160.4 391.0,163.4 392.5,166.6 394.0,169.3 395.5,172.4 397.0,177.5 398.5,182.9 400.0,187.3 401.5,191.3 403.0,193.6 404.5,195.8 406.0,198.8 407.5,201.9 409.0,207.4 410.5,212.9 412.0,216.8 413.5,220.3 415.0,223.3 416.5,226.0 418.0,228.9 419.5,231.7 421.0,233.3 422.5,234.8 424.0,237.5 425.5,240.2 427.0,242.0 428.5,244.0 430.0,246.8 431.5,249.9 433.0,254.2 434.5,258.4 436.0,260.2 437.5,261.8 439.0,265.8 440.5,269.6 442.0,270.4 443.5,270.5 445.0,270.8 446.5,271.0 448.0,272.2 449.5,273.3 451.0,273.5 452.5,274.0 454.0,273.9 455.5,273.8 457.0,273.4 458.5,273.1 460.0,273.6 461.5,274.1 463.0,274.4 464.5,274.7 466.0,274.3 467.5,273.9 469.0,273.9 470.5,273.9 472.0,274.4 473.5,274.9 475.0,274.8 476.5,274.6 478.0,274.4 479.5,274.1 481.0,274.4 482.5,274.6 484.0,274.5 485.5,274.5 487.0,274.8 488.5,275.1 490.0,275.1 491.5,275.1 493.0,275.4 494.5,275.7 496.0,275.7 497.5,275.6 499.0,275.0 500.5,274.5 502.0,275.0 503.5,275.6 505.0,275.7 506.5,275.9 508.0,275.8 509.5,275.7 511.0,275.9 512.5,276.0 514.0,275.7 515.5,275.3 517.0,275.2 518.5,275.1 520.0,275.6 521.5,276.1 523.0,275.6 524.5,275.1 526.0,274.8 527.5,274.6 529.0,275.4 530.5,276.2 532.0,275.8 533.5,275.3 535.0,275.4 536.5,275.5 538.0,275.3" fill="none" stroke="#000" stroke-width="1.2" stroke-linejoin="round"/>
<line x1="326.5" y1="224.8" x2="399.9" y2="170.4" stroke="#000" stroke-width="1.0"/><polygon points="408.8,163.8 401.9,173.0 398.0,167.7" fill="#000"/>
<path d="M56.5,245.0 58.0,245.7 59.5,246.4 61.0,247.1 62.5,247.8 64.0,247.0 65.5,246.1 67.0,247.7 68.5,249.3 70.0,248.7 71.5,248.2 73.0,248.4 74.5,248.7 76.0,249.6 77.5,250.4 79.0,250.2 80.5,250.0 82.0,249.5 83.5,248.9 85.0,250.3 86.5,251.8 88.0,250.6 89.5,249.4 91.0,249.8 92.5,250.2 94.0,250.1 95.5,250.1 97.0,250.5 98.5,250.9 100.0,250.0 101.5,249.1 103.0,249.6 104.5,250.2 106.0,249.3 107.5,248.4 109.0,249.1 110.5,249.7 112.0,248.7 113.5,247.7 115.0,247.6 116.5,247.5 118.0,248.2 119.5,248.9 121.0,247.9 122.5,246.8 124.0,246.3 125.5,245.7 127.0,245.9 128.5,246.1 130.0,244.6 131.5,243.0 133.0,241.7 134.5,240.3 136.0,240.1 137.5,239.7 139.0,237.7 140.5,235.7 142.0,235.4 143.5,235.1 145.0,233.8 146.5,232.4 148.0,230.1 149.5,227.8 151.0,226.3 152.5,224.7 154.0,223.5 155.5,222.3 157.0,220.8 158.5,219.5 160.0,218.0 161.5,216.6 163.0,216.3 164.5,216.0 166.0,214.1 167.5,212.4 169.0,212.6 170.5,213.0 172.0,212.8 173.5,212.6 175.0,212.5 176.5,212.6 178.0,213.1 179.5,213.7 181.0,213.7 182.5,213.7 184.0,215.3 185.5,217.4 187.0,218.6 188.5,220.1 190.0,221.6 191.5,222.9 193.0,224.1 194.5,225.2 196.0,226.7 197.5,228.1 199.0,230.1 200.5,232.0 202.0,232.7 203.5,233.3 205.0,234.8 206.5,236.3 208.0,237.8 209.5,239.2 211.0,240.2 212.5,241.1 214.0,242.2 215.5,243.2 217.0,243.2 218.5,243.0 220.0,243.2 221.5,243.3 223.0,244.6 224.5,245.9 226.0,245.9 227.5,246.0 229.0,246.6 230.5,247.4 232.0,247.3 233.5,247.3 235.0,248.3 236.5,249.3 238.0,249.7 239.5,249.9 241.0,250.1 242.5,250.2 244.0,250.1 245.5,249.9 247.0,249.8 248.5,249.5 250.0,249.3 251.5,249.0 253.0,248.7 254.5,248.4 256.0,248.4 257.5,248.4 259.0,247.3 260.5,246.2 262.0,246.5 263.5,246.6 265.0,245.0 266.5,243.2 268.0,242.6 269.5,241.8 271.0,240.1 272.5,238.2 274.0,236.5 275.5,234.2 277.0,232.6 278.5,230.5 280.0,226.0 281.5,220.1 283.0,213.7 284.5,206.6 286.0,200.0 287.5,193.4 289.0,186.2 290.5,178.7 292.0,172.0 293.5,165.0 295.0,155.0 296.5,145.1 298.0,138.7 299.5,135.3 301.0,131.4 302.5,128.4 304.0,128.2 305.5,132.0 307.0,136.9 308.5,139.3 310.0,141.6 311.5,146.7 313.0,155.0 314.5,164.4 316.0,173.9 317.5,183.2 319.0,191.9 320.5,200.8 322.0,209.8 323.5,217.9 325.0,224.8 326.5,230.0 328.0,233.5 329.5,236.4 331.0,237.7 332.5,238.8 334.0,241.6 335.5,244.3 337.0,245.6 338.5,246.8 340.0,247.5 341.5,248.1 343.0,248.7 344.5,249.2 346.0,251.2 347.5,253.2 349.0,253.5 350.5,253.7 352.0,254.8 353.5,255.8 355.0,256.6 356.5,257.5 358.0,257.3 359.5,257.0 361.0,258.1 362.5,259.2 364.0,259.2 365.5,259.3 367.0,259.8 368.5,260.4 370.0,260.8 371.5,261.2 373.0,261.6 374.5,262.0 376.0,262.8 377.5,263.5 379.0,263.2 380.5,262.9 382.0,262.9 383.5,262.8 385.0,262.9 386.5,262.9 388.0,263.2 389.5,263.5 391.0,263.1 392.5,262.6 394.0,262.8 395.5,263.0 397.0,263.2 398.5,263.4 400.0,263.2 401.5,263.0 403.0,263.2 404.5,263.4 406.0,263.2 407.5,263.0 409.0,264.1 410.5,265.2 412.0,264.9 413.5,264.6 415.0,264.3 416.5,263.9 418.0,263.7 419.5,263.6 421.0,265.1 422.5,266.7 424.0,266.7 425.5,266.6 427.0,267.0 428.5,267.4 430.0,268.2 431.5,269.0 433.0,269.6 434.5,270.2 436.0,271.2 437.5,272.2 439.0,272.1 440.5,272.0 442.0,273.5 443.5,274.9 445.0,274.2 446.5,273.4 448.0,274.5 449.5,275.5 451.0,275.0 452.5,274.4 454.0,275.8 455.5,277.1 457.0,276.3 458.5,275.5 460.0,275.7 461.5,275.9 463.0,276.4 464.5,276.9 466.0,277.2 467.5,277.4 469.0,276.4 470.5,275.5 472.0,275.8 473.5,276.2 475.0,275.7 476.5,275.3 478.0,276.0 479.5,276.6 481.0,276.5 482.5,276.4 484.0,276.3 485.5,276.2 487.0,276.1 488.5,275.9 490.0,276.0 491.5,276.2 493.0,276.0 494.5,275.8 496.0,276.4 497.5,276.9 499.0,277.3 500.5,277.7 502.0,276.3 503.5,274.8 505.0,275.6 506.5,276.3 508.0,276.2 509.5,276.0 511.0,276.4 512.5,276.8 514.0,276.1 515.5,275.5 517.0,275.8 518.5,276.1 520.0,275.7 521.5,275.3 523.0,276.0 524.5,276.8 526.0,276.5 527.5,276.2 529.0,276.0 530.5,275.9 532.0,276.1 533.5,276.2 535.0,275.9 536.5,275.6 538.0,275.0" fill="none" stroke="#f00" stroke-width="3.5" stroke-linejoin="round"/>
<path d="M56.5,173.0 58.0,173.4 59.5,173.8 61.0,174.8 62.5,175.8 64.0,176.3 65.5,176.8 67.0,176.1 68.5,175.4 70.0,175.7 71.5,175.8 73.0,176.8 74.5,177.7 76.0,177.6 77.5,177.5 79.0,176.4 80.5,175.4 82.0,175.1 83.5,174.8 85.0,175.0 86.5,175.2 88.0,175.2 89.5,175.3 91.0,175.0 92.5,174.8 94.0,175.8 95.5,176.8 97.0,176.6 98.5,176.4 100.0,176.8 101.5,177.2 103.0,178.4 104.5,179.5 106.0,179.0 107.5,178.4 109.0,178.6 110.5,178.7 112.0,178.7 113.5,178.5 115.0,178.1 116.5,177.5 118.0,176.4 119.5,175.3 121.0,174.9 122.5,174.4 124.0,173.4 125.5,172.3 127.0,172.6 128.5,172.9 130.0,171.6 131.5,170.2 133.0,168.5 134.5,166.7 136.0,166.1 137.5,165.4 139.0,164.5 140.5,163.5 142.0,162.0 143.5,160.4 145.0,159.1 146.5,157.7 148.0,155.3 149.5,152.8 151.0,149.7 152.5,146.7 154.0,144.8 155.5,143.2 157.0,141.2 158.5,139.3 160.0,138.7 161.5,138.1 163.0,136.9 164.5,135.7 166.0,135.8 167.5,135.8 169.0,133.7 170.5,131.5 172.0,129.5 173.5,127.5 175.0,127.3 176.5,127.4 178.0,127.2 179.5,127.1 181.0,126.2 182.5,125.4 184.0,125.6 185.5,125.9 187.0,126.3 188.5,126.7 190.0,127.3 191.5,127.8 193.0,127.8 194.5,127.7 196.0,127.6 197.5,127.5 199.0,128.4 200.5,129.3 202.0,128.9 203.5,128.6 205.0,128.8 206.5,129.0 208.0,128.9 209.5,128.8 211.0,129.3 212.5,129.9 214.0,130.9 215.5,132.0 217.0,131.5 218.5,130.9 220.0,132.0 221.5,133.0 223.0,133.7 224.5,134.2 226.0,133.9 227.5,133.5 229.0,133.7 230.5,133.8 232.0,133.0 233.5,132.1 235.0,132.8 236.5,133.6 238.0,133.2 239.5,132.8 241.0,132.2 242.5,131.6 244.0,130.4 245.5,129.3 247.0,129.3 248.5,129.3 250.0,129.9 251.5,130.6 253.0,130.7 254.5,131.0 256.0,130.4 257.5,129.8 259.0,130.4 260.5,130.9 262.0,130.2 263.5,129.6 265.0,129.8 266.5,130.0 268.0,128.2 269.5,124.4 271.0,121.3 272.5,118.4 274.0,114.6 275.5,110.8 277.0,109.1 278.5,107.6 280.0,105.1 281.5,102.4 283.0,98.3 284.5,94.0 286.0,90.4 287.5,86.3 289.0,82.3 290.5,77.9 292.0,72.4 293.5,66.6 295.0,60.7 296.5,56.4 298.0,54.6 299.5,53.5 301.0,51.8 302.5,51.8 304.0,52.7 305.5,53.3 307.0,55.0 308.5,56.5 310.0,56.0 311.5,55.3 313.0,54.6 314.5,53.8 316.0,55.5 317.5,59.9 319.0,63.5 320.5,65.3 322.0,67.2 323.5,68.9 325.0,70.7 326.5,72.3 328.0,72.8 329.5,73.0 331.0,73.9 332.5,74.9 334.0,77.0 335.5,79.1 337.0,80.0 338.5,81.0 340.0,82.3 341.5,83.7 343.0,85.1 344.5,86.7 346.0,88.6 347.5,90.8 349.0,93.7 350.5,96.8 352.0,98.9 353.5,101.2 355.0,105.1 356.5,109.1 358.0,111.0 359.5,112.7 361.0,115.8 362.5,119.0 364.0,121.3 365.5,123.3 367.0,126.0 368.5,128.2 370.0,130.1 371.5,131.8 373.0,133.6 374.5,135.5 376.0,136.3 377.5,137.3 379.0,139.6 380.5,142.1 382.0,144.2 383.5,146.4 385.0,148.6 386.5,150.9 388.0,153.2 389.5,155.6 391.0,158.9 392.5,162.4 394.0,164.7 395.5,167.5 397.0,172.3 398.5,177.3 400.0,181.4 401.5,185.1 403.0,188.3 404.5,191.4 406.0,194.8 407.5,198.3 409.0,202.2 410.5,206.3 412.0,211.7 413.5,216.7 415.0,218.6 416.5,220.2 418.0,224.3 419.5,228.2 421.0,230.5 422.5,232.7 424.0,234.7 425.5,236.7 427.0,238.9 428.5,241.2 430.0,245.1 431.5,249.1 433.0,252.6 434.5,255.9 436.0,257.5 437.5,259.1 439.0,262.1 440.5,265.0 442.0,267.6 443.5,269.6 445.0,270.0 446.5,270.4 448.0,271.7 449.5,272.9 451.0,272.2 452.5,271.5 454.0,272.2 455.5,272.9 457.0,272.3 458.5,271.7 460.0,273.3 461.5,274.8 463.0,273.8 464.5,272.7 466.0,272.1 467.5,271.6 469.0,272.5 470.5,273.5 472.0,273.6 473.5,273.6 475.0,274.6 476.5,275.5 478.0,274.6 479.5,273.7 481.0,273.9 482.5,274.1 484.0,274.4 485.5,274.7 487.0,275.2 488.5,275.7 490.0,275.0 491.5,274.4 493.0,274.9 494.5,275.4 496.0,275.2 497.5,275.0 499.0,274.7 500.5,274.4 502.0,274.6 503.5,274.8 505.0,274.8 506.5,274.8 508.0,274.4 509.5,274.0 511.0,275.0 512.5,275.9 514.0,274.8 515.5,273.8 517.0,274.9 518.5,276.0 520.0,275.9 521.5,275.8 523.0,275.4 524.5,275.0 526.0,274.7 527.5,274.5 529.0,274.7 530.5,274.9 532.0,275.3 533.5,275.6 535.0,275.7 536.5,275.8 538.0,275.6" fill="none" stroke="#00f" stroke-width="3.5" stroke-linejoin="round"/>
<path d="M56.5,566.1 58.0,566.9 59.5,567.6 61.0,567.1 62.5,566.5 64.0,568.0 65.5,569.5 67.0,569.5 68.5,569.5 70.0,569.5 71.5,569.4 73.0,570.4 74.5,571.4 76.0,571.4 77.5,571.3 79.0,569.8 80.5,568.2 82.0,569.8 83.5,571.4 85.0,570.8 86.5,570.2 88.0,571.6 89.5,572.9 91.0,573.7 92.5,574.4 94.0,572.9 95.5,571.4 97.0,571.7 98.5,572.0 100.0,571.8 101.5,571.6 103.0,571.9 104.5,572.3 106.0,572.4 107.5,572.5 109.0,572.6 110.5,572.5 112.0,570.8 113.5,569.1 115.0,569.7 116.5,570.2 118.0,568.3 119.5,566.3 121.0,566.0 122.5,565.7 124.0,565.1 125.5,564.4 127.0,563.0 128.5,561.4 130.0,559.2 131.5,557.0 133.0,555.5 134.5,553.8 136.0,551.8 137.5,549.7 139.0,547.4 140.5,545.1 142.0,543.2 143.5,541.4 145.0,537.6 146.5,533.6 148.0,531.7 149.5,529.8 151.0,527.1 152.5,524.3 154.0,521.6 155.5,519.1 157.0,516.5 158.5,513.9 160.0,512.1 161.5,510.6 163.0,508.4 164.5,506.3 166.0,505.0 167.5,504.2 169.0,503.7 170.5,503.7 172.0,504.6 173.5,505.7 175.0,504.4 176.5,503.7 178.0,507.0 179.5,510.8 181.0,512.3 182.5,513.8 184.0,516.1 185.5,518.7 187.0,521.0 188.5,523.4 190.0,525.6 191.5,527.6 193.0,530.7 194.5,533.5 196.0,535.4 197.5,537.2 199.0,539.7 200.5,542.2 202.0,543.0 203.5,543.8 205.0,547.0 206.5,550.2 208.0,551.3 209.5,552.5 211.0,554.0 212.5,555.5 214.0,557.0 215.5,558.5 217.0,560.0 218.5,561.5 220.0,562.7 221.5,563.8 223.0,565.3 224.5,566.7 226.0,568.1 227.5,569.6 229.0,570.5 230.5,571.4 232.0,571.7 233.5,571.7 235.0,572.7 236.5,573.5 238.0,573.2 239.5,572.8 241.0,573.2 242.5,573.6 244.0,574.2 245.5,574.8 247.0,574.0 248.5,572.9 250.0,572.0 251.5,570.9 253.0,569.5 254.5,568.1 256.0,567.3 257.5,566.3 259.0,564.9 260.5,563.3 262.0,562.8 263.5,562.1 265.0,559.2 266.5,555.7 268.0,552.8 269.5,549.5 271.0,545.0 272.5,540.2 274.0,535.3 275.5,529.6 277.0,523.3 278.5,515.2 280.0,505.4 281.5,496.9 283.0,489.5 284.5,480.9 286.0,470.1 287.5,459.2 289.0,452.3 290.5,446.5 292.0,439.9 293.5,434.4 295.0,430.7 296.5,428.6 298.0,427.2 299.5,426.3 301.0,425.9 302.5,425.9 304.0,427.0 305.5,429.1 307.0,432.5 308.5,437.1 310.0,440.7 311.5,446.3 313.0,458.0 314.5,474.0 316.0,487.6 317.5,498.7 319.0,507.0 320.5,513.8 322.0,521.0 323.5,527.5 325.0,533.0 326.5,538.1 328.0,542.6 329.5,546.9 331.0,552.4 332.5,557.5 334.0,559.0 335.5,560.1 337.0,564.0 338.5,567.8 340.0,570.2 341.5,572.5 343.0,574.1 344.5,575.6 346.0,577.8 347.5,579.8 349.0,581.8 350.5,583.6 352.0,584.6 353.5,585.5 355.0,586.9 356.5,588.3 358.0,589.6 359.5,590.9 361.0,590.7 362.5,590.5 364.0,593.4 365.5,596.2 367.0,597.6 368.5,598.9 370.0,599.1 371.5,599.1 373.0,599.6 374.5,600.1 376.0,599.3 377.5,598.5 379.0,599.5 380.5,600.6 382.0,600.6 383.5,600.5 385.0,600.9 386.5,601.3 388.0,602.4 389.5,603.3 391.0,602.6 392.5,601.9 394.0,602.4 395.5,602.8 397.0,602.0 398.5,601.2 400.0,602.2 401.5,603.1 403.0,603.3 404.5,603.5 406.0,603.2 407.5,602.8 409.0,602.8 410.5,602.8 412.0,604.0 413.5,605.2 415.0,603.5 416.5,601.8 418.0,601.7 419.5,601.6 421.0,601.6 422.5,601.6 424.0,602.6 425.5,603.7 427.0,604.7 428.5,605.8 430.0,605.7 431.5,605.8 433.0,606.2 434.5,606.5 436.0,607.4 437.5,608.1 439.0,609.1 440.5,610.0 442.0,609.2 443.5,608.3 445.0,609.6 446.5,610.9 448.0,611.0 449.5,611.0 451.0,610.1 452.5,609.8 454.0,610.0 455.5,610.2 457.0,610.3 458.5,610.3 460.0,610.6 461.5,610.8 463.0,610.2 464.5,609.6 466.0,610.2 467.5,610.8 469.0,610.4 470.5,610.0 472.0,610.0 473.5,609.9 475.0,610.2 476.5,610.4 478.0,610.4 479.5,610.3 481.0,610.1 482.5,610.0 484.0,609.8 485.5,609.7 487.0,609.9 488.5,610.1 490.0,610.7 491.5,611.3 493.0,611.5 494.5,611.6 496.0,611.3 497.5,611.0 499.0,611.2 500.5,611.3 502.0,610.9 503.5,610.5 505.0,610.6 506.5,610.8 508.0,610.9 509.5,611.0 511.0,610.7 512.5,610.3 514.0,610.4 515.5,610.4 517.0,610.7 518.5,611.0 520.0,610.9 521.5,610.8 523.0,610.6 524.5,610.4 526.0,610.8 527.5,611.2 529.0,611.0 530.5,610.9 532.0,611.2 533.5,611.5 535.0,611.2 536.5,611.0 538.0,610.9" fill="none" stroke="#000" stroke-width="1.2" stroke-linejoin="round"/>
<path d="M56.5,564.7 58.0,564.8 59.5,565.0 61.0,565.5 62.5,566.0 64.0,566.9 65.5,567.7 67.0,568.0 68.5,568.2 70.0,568.7 71.5,569.3 73.0,568.0 74.5,566.7 76.0,567.5 77.5,568.4 79.0,568.6 80.5,568.8 82.0,569.3 83.5,569.8 85.0,569.6 86.5,569.5 88.0,569.5 89.5,569.6 91.0,570.3 92.5,571.0 94.0,570.6 95.5,570.3 97.0,569.7 98.5,569.0 100.0,570.2 101.5,571.4 103.0,571.3 104.5,571.1 106.0,570.3 107.5,569.4 109.0,569.9 110.5,570.2 112.0,568.9 113.5,567.5 115.0,567.8 116.5,568.1 118.0,566.7 119.5,565.3 121.0,564.2 122.5,563.0 124.0,562.2 125.5,561.3 127.0,559.9 128.5,558.4 130.0,557.5 131.5,556.5 133.0,555.0 134.5,553.2 136.0,551.1 137.5,548.8 139.0,546.2 140.5,543.5 142.0,539.5 143.5,535.6 145.0,535.0 146.5,534.3 148.0,530.6 149.5,526.9 151.0,525.2 152.5,523.6 154.0,521.5 155.5,519.4 157.0,516.5 158.5,513.6 160.0,510.9 161.5,508.5 163.0,507.0 164.5,505.4 166.0,504.0 167.5,503.0 169.0,502.5 170.5,502.3 172.0,502.5 173.5,502.9 175.0,503.1 176.5,503.7 178.0,506.0 179.5,508.7 181.0,509.8 182.5,510.9 184.0,512.9 185.5,515.1 187.0,516.5 188.5,517.9 190.0,520.0 191.5,522.2 193.0,524.0 194.5,525.8 196.0,528.1 197.5,530.3 199.0,532.4 200.5,534.5 202.0,536.2 203.5,537.8 205.0,539.4 206.5,540.5 208.0,542.0 209.5,543.6 211.0,546.5 212.5,549.4 214.0,550.2 215.5,550.9 217.0,552.5 218.5,554.1 220.0,556.6 221.5,558.9 223.0,560.0 224.5,561.2 226.0,562.3 227.5,563.4 229.0,564.2 230.5,564.9 232.0,567.3 233.5,569.6 235.0,569.3 236.5,568.8 238.0,569.2 239.5,569.5 241.0,569.3 242.5,569.0 244.0,568.5 245.5,567.8 247.0,567.8 248.5,567.7 250.0,568.3 251.5,568.7 253.0,568.0 254.5,567.3 256.0,566.1 257.5,564.7 259.0,562.9 260.5,560.9 262.0,559.1 263.5,557.1 265.0,555.5 266.5,553.4 268.0,549.6 269.5,545.3 271.0,542.5 272.5,539.3 274.0,534.4 275.5,528.6 277.0,522.7 278.5,514.5 280.0,503.9 281.5,495.3 283.0,487.2 284.5,478.0 286.0,467.8 287.5,457.4 289.0,448.3 290.5,439.9 292.0,434.8 293.5,430.6 295.0,425.7 296.5,421.7 298.0,418.6 299.5,416.9 301.0,415.6 302.5,416.7 304.0,418.3 305.5,420.8 307.0,424.2 308.5,428.7 310.0,435.1 311.5,443.3 313.0,454.4 314.5,469.0 316.0,481.3 317.5,491.0 319.0,499.4 320.5,506.5 322.0,512.2 323.5,517.1 325.0,523.4 326.5,529.3 328.0,533.3 329.5,537.1 331.0,540.5 332.5,543.6 334.0,545.8 335.5,547.8 337.0,551.2 338.5,554.5 340.0,556.7 341.5,558.8 343.0,561.1 344.5,563.3 346.0,565.2 347.5,567.0 349.0,569.3 350.5,571.6 352.0,572.9 353.5,574.1 355.0,576.4 356.5,578.7 358.0,579.9 359.5,581.2 361.0,582.6 362.5,583.9 364.0,585.5 365.5,587.1 367.0,588.3 368.5,589.5 370.0,591.3 371.5,593.0 373.0,593.3 374.5,593.6 376.0,594.7 377.5,595.7 379.0,596.0 380.5,596.3 382.0,596.3 383.5,596.3 385.0,598.1 386.5,599.7 388.0,599.2 389.5,598.7 391.0,599.9 392.5,601.1 394.0,601.4 395.5,601.5 397.0,600.8 398.5,600.1 400.0,600.7 401.5,601.3 403.0,601.6 404.5,602.0 406.0,601.9 407.5,601.9 409.0,601.8 410.5,601.6 412.0,602.5 413.5,603.4 415.0,602.8 416.5,602.2 418.0,602.3 419.5,602.5 421.0,602.0 422.5,601.5 424.0,601.9 425.5,602.5 427.0,602.5 428.5,602.7 430.0,604.0 431.5,605.3 433.0,606.5 434.5,607.7 436.0,608.2 437.5,608.4 439.0,608.5 440.5,608.5 442.0,608.3 443.5,608.2 445.0,608.9 446.5,609.6 448.0,609.8 449.5,610.0 451.0,609.7 452.5,609.6 454.0,609.6 455.5,609.5 457.0,609.9 458.5,610.2 460.0,610.8 461.5,611.3 463.0,610.6 464.5,610.0 466.0,610.2 467.5,610.3 469.0,610.4 470.5,610.4 472.0,609.7 473.5,609.0 475.0,609.7 476.5,610.4 478.0,610.3 479.5,610.1 481.0,610.6 482.5,611.2 484.0,610.8 485.5,610.4 487.0,610.3 488.5,610.2 490.0,610.4 491.5,610.5 493.0,610.6 494.5,610.8 496.0,610.6 497.5,610.4 499.0,610.6 500.5,610.7 502.0,610.4 503.5,610.1 505.0,610.4 506.5,610.7 508.0,611.0 509.5,611.2 511.0,611.6 512.5,611.9 514.0,611.6 515.5,611.3 517.0,611.2 518.5,611.1 520.0,611.3 521.5,611.5 523.0,611.5 524.5,611.5 526.0,611.6 527.5,611.8 529.0,611.7 530.5,611.5 532.0,611.2 533.5,610.9 535.0,611.0 536.5,611.1 538.0,611.1" fill="none" stroke="#000" stroke-width="1.2" stroke-linejoin="round"/>
<path d="M56.5,563.2 58.0,563.2 59.5,563.1 61.0,562.8 62.5,562.5 64.0,563.5 65.5,564.5 67.0,564.1 68.5,563.7 70.0,565.0 71.5,566.2 73.0,566.4 74.5,566.5 76.0,565.9 77.5,565.2 79.0,566.6 80.5,568.0 82.0,568.3 83.5,568.6 85.0,568.4 86.5,568.2 88.0,569.2 89.5,570.0 91.0,570.2 92.5,570.3 94.0,568.8 95.5,567.2 97.0,568.3 98.5,569.4 100.0,569.1 101.5,568.8 103.0,568.7 104.5,568.7 106.0,568.9 107.5,569.1 109.0,568.0 110.5,566.8 112.0,566.4 113.5,565.9 115.0,565.2 116.5,564.4 118.0,563.8 119.5,563.1 121.0,562.7 122.5,562.1 124.0,560.4 125.5,558.6 127.0,557.6 128.5,556.5 130.0,555.9 131.5,555.3 133.0,553.5 134.5,551.4 136.0,549.7 137.5,547.8 139.0,544.5 140.5,541.0 142.0,539.3 143.5,537.5 145.0,535.3 146.5,532.9 148.0,530.6 149.5,528.3 151.0,525.4 152.5,522.5 154.0,520.7 155.5,519.0 157.0,516.1 158.5,513.1 160.0,510.8 161.5,508.8 163.0,507.2 164.5,505.5 166.0,504.5 167.5,503.8 169.0,502.8 170.5,502.3 172.0,503.3 173.5,504.4 175.0,504.5 176.5,504.8 178.0,505.7 179.5,507.1 181.0,508.6 182.5,510.0 184.0,511.6 185.5,513.2 187.0,515.1 188.5,517.0 190.0,518.7 191.5,520.3 193.0,521.7 194.5,523.1 196.0,525.0 197.5,526.9 199.0,528.2 200.5,529.5 202.0,531.7 203.5,534.0 205.0,535.1 206.5,536.0 208.0,536.4 209.5,536.9 211.0,540.2 212.5,543.5 214.0,544.5 215.5,545.5 217.0,546.5 218.5,547.5 220.0,549.6 221.5,551.6 223.0,552.8 224.5,553.9 226.0,556.8 227.5,559.8 229.0,560.3 230.5,560.8 232.0,560.9 233.5,560.9 235.0,562.8 236.5,564.5 238.0,564.5 239.5,564.4 241.0,565.9 242.5,567.4 244.0,566.1 245.5,564.7 247.0,564.2 248.5,563.6 250.0,564.7 251.5,565.4 253.0,564.6 254.5,563.7 256.0,562.8 257.5,561.7 259.0,559.5 260.5,557.1 262.0,556.7 263.5,556.1 265.0,554.6 266.5,552.6 268.0,547.7 269.5,542.3 271.0,539.8 272.5,537.1 274.0,531.4 275.5,524.9 277.0,519.8 278.5,511.9 280.0,500.5 281.5,491.7 283.0,484.2 284.5,475.8 286.0,466.9 287.5,457.7 289.0,449.6 290.5,441.6 292.0,433.8 293.5,426.8 295.0,421.2 296.5,416.0 298.0,409.8 299.5,405.5 301.0,403.3 302.5,405.0 304.0,409.7 305.5,415.3 307.0,418.6 308.5,423.0 310.0,429.8 311.5,438.1 313.0,449.2 314.5,463.2 316.0,475.5 317.5,485.0 319.0,492.5 320.5,498.8 322.0,504.8 323.5,509.9 325.0,514.2 326.5,518.0 328.0,521.9 329.5,525.6 331.0,529.4 332.5,533.0 334.0,535.2 335.5,537.2 337.0,540.4 338.5,543.5 340.0,546.0 341.5,548.3 343.0,549.6 344.5,550.9 346.0,553.7 347.5,556.6 349.0,558.3 350.5,560.0 352.0,563.1 353.5,566.2 355.0,567.9 356.5,569.6 358.0,571.3 359.5,573.0 361.0,574.3 362.5,575.6 364.0,578.3 365.5,580.8 367.0,582.1 368.5,583.4 370.0,585.6 371.5,587.8 373.0,588.6 374.5,589.3 376.0,590.0 377.5,590.6 379.0,592.4 380.5,594.1 382.0,594.8 383.5,595.5 385.0,595.5 386.5,595.6 388.0,597.1 389.5,598.6 391.0,598.4 392.5,598.2 394.0,598.7 395.5,599.2 397.0,599.9 398.5,600.6 400.0,600.6 401.5,600.5 403.0,600.9 404.5,601.3 406.0,601.6 407.5,601.8 409.0,602.8 410.5,603.7 412.0,603.7 413.5,603.6 415.0,602.6 416.5,601.7 418.0,602.5 419.5,603.3 421.0,602.4 422.5,601.5 424.0,601.8 425.5,602.2 427.0,603.0 428.5,604.1 430.0,604.8 431.5,605.5 433.0,607.5 434.5,609.4 436.0,609.0 437.5,608.5 439.0,608.2 440.5,607.7 442.0,609.2 443.5,610.6 445.0,609.8 446.5,609.1 448.0,609.2 449.5,609.3 451.0,608.9 452.5,608.3 454.0,609.3 455.5,610.4 457.0,610.4 458.5,610.4 460.0,610.4 461.5,610.4 463.0,610.5 464.5,610.6 466.0,610.8 467.5,611.0 469.0,610.6 470.5,610.2 472.0,610.5 473.5,610.8 475.0,610.4 476.5,610.0 478.0,610.1 479.5,610.3 481.0,610.6 482.5,611.0 484.0,610.9 485.5,610.7 487.0,610.3 488.5,609.9 490.0,610.4 491.5,610.8 493.0,610.7 494.5,610.6 496.0,610.5 497.5,610.3 499.0,610.6 500.5,611.0 502.0,610.8 503.5,610.6 505.0,610.3 506.5,610.0 508.0,610.2 509.5,610.3 511.0,611.0 512.5,611.8 514.0,611.0 515.5,610.2 517.0,610.6 518.5,611.0 520.0,611.1 521.5,611.3 523.0,611.3 524.5,611.3 526.0,610.8 527.5,610.4 529.0,610.6 530.5,610.8 532.0,610.9 533.5,611.1 535.0,611.2 536.5,611.4 538.0,611.0" fill="none" stroke="#000" stroke-width="1.2" stroke-linejoin="round"/>
<path d="M56.5,562.2 58.0,562.7 59.5,563.2 61.0,563.2 62.5,563.2 64.0,563.0 65.5,562.8 67.0,563.6 68.5,564.3 70.0,564.4 71.5,564.4 73.0,565.0 74.5,565.5 76.0,564.6 77.5,563.8 79.0,564.7 80.5,565.6 82.0,565.7 83.5,565.8 85.0,565.5 86.5,565.2 88.0,566.1 89.5,566.9 91.0,566.8 92.5,566.7 94.0,566.5 95.5,566.3 97.0,566.6 98.5,567.0 100.0,566.1 101.5,565.1 103.0,565.7 104.5,566.4 106.0,566.5 107.5,566.7 109.0,566.4 110.5,566.0 112.0,565.9 113.5,565.8 115.0,564.1 116.5,562.3 118.0,561.5 119.5,560.7 121.0,560.8 122.5,560.8 124.0,559.9 125.5,558.9 127.0,558.5 128.5,558.1 130.0,556.0 131.5,553.8 133.0,551.6 134.5,549.1 136.0,548.1 137.5,546.9 139.0,543.9 140.5,540.9 142.0,538.4 143.5,535.9 145.0,535.6 146.5,535.3 148.0,531.7 149.5,528.0 151.0,525.7 152.5,523.4 154.0,520.9 155.5,518.5 157.0,516.7 158.5,514.8 160.0,511.8 161.5,509.0 163.0,507.8 164.5,506.7 166.0,504.1 167.5,502.0 169.0,501.5 170.5,501.3 172.0,502.9 173.5,504.6 175.0,505.0 176.5,505.6 178.0,506.1 179.5,507.0 181.0,508.3 182.5,509.5 184.0,510.7 185.5,511.9 187.0,512.9 188.5,513.9 190.0,516.6 191.5,519.2 193.0,520.2 194.5,521.3 196.0,522.7 197.5,524.2 199.0,525.7 200.5,527.1 202.0,529.0 203.5,531.0 205.0,532.3 206.5,533.4 208.0,534.9 209.5,536.4 211.0,536.9 212.5,537.4 214.0,539.8 215.5,542.2 217.0,544.6 218.5,547.0 220.0,547.3 221.5,547.5 223.0,549.1 224.5,550.8 226.0,552.8 227.5,554.7 229.0,556.1 230.5,557.4 232.0,558.4 233.5,559.2 235.0,559.0 236.5,558.6 238.0,560.3 239.5,561.8 241.0,561.4 242.5,560.9 244.0,561.3 245.5,561.7 247.0,562.6 248.5,563.3 250.0,562.9 251.5,562.1 253.0,562.2 254.5,562.1 256.0,562.4 257.5,562.4 259.0,559.9 260.5,557.2 262.0,555.5 263.5,553.6 265.0,550.6 266.5,547.2 268.0,544.3 269.5,540.9 271.0,536.8 272.5,532.5 274.0,528.1 275.5,523.0 277.0,516.2 278.5,506.4 280.0,495.2 281.5,487.5 283.0,480.7 284.5,473.1 286.0,463.6 287.5,453.9 289.0,445.8 290.5,437.4 292.0,429.8 293.5,422.8 295.0,416.6 296.5,410.6 298.0,403.7 299.5,398.9 301.0,397.3 302.5,400.9 304.0,404.7 305.5,409.1 307.0,413.7 308.5,419.1 310.0,427.1 311.5,436.3 313.0,445.8 314.5,457.6 316.0,472.3 317.5,484.1 319.0,490.2 320.5,495.2 322.0,499.4 323.5,502.8 325.0,506.0 326.5,508.9 328.0,512.7 329.5,516.5 331.0,518.2 332.5,519.9 334.0,523.2 335.5,526.5 337.0,529.9 338.5,533.3 340.0,535.4 341.5,537.3 343.0,539.2 344.5,541.1 346.0,544.1 347.5,547.3 349.0,548.9 350.5,550.5 352.0,553.7 353.5,556.7 355.0,558.7 356.5,560.6 358.0,562.7 359.5,564.8 361.0,567.8 362.5,570.8 364.0,572.3 365.5,573.7 367.0,577.2 368.5,580.7 370.0,581.3 371.5,581.8 373.0,584.6 374.5,587.3 376.0,587.0 377.5,586.7 379.0,588.6 380.5,590.6 382.0,590.7 383.5,590.7 385.0,591.6 386.5,592.4 388.0,593.9 389.5,595.5 391.0,596.4 392.5,597.4 394.0,597.1 395.5,596.8 397.0,598.7 398.5,600.5 400.0,600.1 401.5,599.6 403.0,600.4 404.5,601.1 406.0,601.4 407.5,601.7 409.0,602.0 410.5,602.2 412.0,601.0 413.5,599.8 415.0,601.5 416.5,603.1 418.0,602.5 419.5,601.9 421.0,601.3 422.5,600.8 424.0,600.5 425.5,600.5 427.0,600.8 428.5,601.3 430.0,602.6 431.5,603.8 433.0,605.6 434.5,607.4 436.0,607.7 437.5,607.8 439.0,607.8 440.5,607.7 442.0,608.3 443.5,608.8 445.0,609.9 446.5,611.1 448.0,610.2 449.5,609.3 451.0,609.5 452.5,609.5 454.0,610.0 455.5,610.6 457.0,610.4 458.5,610.2 460.0,610.1 461.5,610.1 463.0,609.9 464.5,609.8 466.0,609.6 467.5,609.4 469.0,609.5 470.5,609.7 472.0,609.9 473.5,610.1 475.0,610.2 476.5,610.3 478.0,610.5 479.5,610.6 481.0,610.7 482.5,610.8 484.0,610.7 485.5,610.7 487.0,610.7 488.5,610.7 490.0,610.4 491.5,610.1 493.0,609.9 494.5,609.6 496.0,610.0 497.5,610.5 499.0,610.4 500.5,610.3 502.0,610.4 503.5,610.5 505.0,610.6 506.5,610.7 508.0,610.5 509.5,610.2 511.0,610.3 512.5,610.3 514.0,610.6 515.5,610.9 517.0,610.9 518.5,611.0 520.0,610.8 521.5,610.6 523.0,610.9 524.5,611.2 526.0,611.0 527.5,610.9 529.0,610.7 530.5,610.5 532.0,610.7 533.5,611.0 535.0,611.5 536.5,611.9 538.0,611.3" fill="none" stroke="#000" stroke-width="1.2" stroke-linejoin="round"/>
<path d="M56.5,560.8 58.0,561.3 59.5,561.8 61.0,561.1 62.5,560.3 64.0,562.0 65.5,563.7 67.0,563.0 68.5,562.2 70.0,562.2 71.5,562.2 73.0,562.4 74.5,562.6 76.0,563.2 77.5,563.8 79.0,563.7 80.5,563.7 82.0,563.8 83.5,564.0 85.0,564.9 86.5,565.9 88.0,565.0 89.5,564.2 91.0,564.1 92.5,563.9 94.0,564.8 95.5,565.7 97.0,565.6 98.5,565.6 100.0,565.7 101.5,565.8 103.0,564.7 104.5,563.5 106.0,564.5 107.5,565.5 109.0,564.9 110.5,564.3 112.0,564.5 113.5,564.7 115.0,562.6 116.5,560.6 118.0,560.7 119.5,560.8 121.0,559.8 122.5,558.7 124.0,557.1 125.5,555.3 127.0,554.5 128.5,553.6 130.0,553.2 131.5,552.7 133.0,550.5 134.5,548.0 136.0,546.1 137.5,544.0 139.0,542.8 140.5,541.5 142.0,539.4 143.5,537.4 145.0,535.2 146.5,532.9 148.0,529.7 149.5,526.4 151.0,524.3 152.5,522.3 154.0,520.5 155.5,518.7 157.0,515.5 158.5,512.2 160.0,509.9 161.5,507.8 163.0,507.0 164.5,506.2 166.0,505.2 167.5,504.6 169.0,502.8 170.5,501.5 172.0,501.0 173.5,500.5 175.0,501.5 176.5,502.5 178.0,503.7 179.5,505.2 181.0,507.0 182.5,508.7 184.0,510.2 185.5,511.7 187.0,512.6 188.5,513.5 190.0,514.6 191.5,515.6 193.0,517.4 194.5,519.2 196.0,520.1 197.5,520.9 199.0,522.8 200.5,524.7 202.0,525.8 203.5,527.0 205.0,530.2 206.5,533.1 208.0,533.4 209.5,533.8 211.0,534.3 212.5,534.8 214.0,536.2 215.5,537.5 217.0,539.3 218.5,541.1 220.0,542.0 221.5,542.9 223.0,544.9 224.5,546.8 226.0,548.2 227.5,549.6 229.0,551.8 230.5,553.8 232.0,554.3 233.5,554.7 235.0,555.4 236.5,556.0 238.0,556.3 239.5,556.6 241.0,557.2 242.5,557.6 244.0,558.5 245.5,559.3 247.0,559.5 248.5,559.5 250.0,560.2 251.5,560.6 253.0,559.3 254.5,557.9 256.0,557.8 257.5,557.5 259.0,555.7 260.5,553.8 262.0,552.0 263.5,550.0 265.0,546.9 266.5,543.4 268.0,540.7 269.5,537.6 271.0,534.8 272.5,531.8 274.0,527.7 275.5,522.9 277.0,516.0 278.5,505.5 280.0,493.6 281.5,485.7 283.0,478.4 284.5,470.3 286.0,461.7 287.5,452.8 289.0,444.7 290.5,435.9 292.0,428.6 293.5,421.9 295.0,413.7 296.5,405.3 298.0,397.2 299.5,391.4 301.0,388.9 302.5,392.7 304.0,397.8 305.5,403.5 307.0,409.3 308.5,416.0 310.0,423.4 311.5,431.9 313.0,443.6 314.5,457.3 316.0,469.0 317.5,477.9 319.0,483.9 320.5,488.8 322.0,493.9 323.5,498.3 325.0,501.3 326.5,504.0 328.0,506.1 329.5,508.1 331.0,511.0 332.5,513.8 334.0,515.7 335.5,517.5 337.0,520.4 338.5,523.2 340.0,524.8 341.5,526.2 343.0,530.2 344.5,534.2 346.0,535.0 347.5,536.2 349.0,540.3 350.5,544.5 352.0,546.5 353.5,548.4 355.0,550.9 356.5,553.4 358.0,556.4 359.5,559.3 361.0,562.2 362.5,565.0 364.0,567.7 365.5,570.3 367.0,573.2 368.5,576.1 370.0,577.5 371.5,578.8 373.0,580.8 374.5,582.7 376.0,583.5 377.5,584.1 379.0,586.1 380.5,588.0 382.0,588.9 383.5,589.7 385.0,590.5 386.5,591.2 388.0,592.3 389.5,593.4 391.0,594.3 392.5,595.1 394.0,596.1 395.5,597.1 397.0,598.0 398.5,598.8 400.0,599.0 401.5,599.1 403.0,599.5 404.5,599.6 406.0,600.6 407.5,601.6 409.0,600.5 410.5,599.4 412.0,600.0 413.5,600.6 415.0,601.6 416.5,602.6 418.0,600.4 419.5,598.3 421.0,599.2 422.5,600.2 424.0,600.9 425.5,601.9 427.0,601.4 428.5,601.2 430.0,604.4 431.5,607.6 433.0,606.0 434.5,604.2 436.0,606.9 437.5,609.5 439.0,610.0 440.5,610.4 442.0,610.4 443.5,610.2 445.0,609.8 446.5,609.3 448.0,609.7 449.5,610.0 451.0,609.6 452.5,609.3 454.0,609.8 455.5,610.3 457.0,609.9 458.5,609.4 460.0,609.7 461.5,609.9 463.0,610.3 464.5,610.6 466.0,610.1 467.5,609.6 469.0,609.9 470.5,610.1 472.0,610.3 473.5,610.4 475.0,610.1 476.5,609.7 478.0,610.4 479.5,611.0 481.0,610.9 482.5,610.7 484.0,610.2 485.5,609.8 487.0,610.2 488.5,610.6 490.0,610.4 491.5,610.3 493.0,610.3 494.5,610.4 496.0,610.6 497.5,610.8 499.0,610.6 500.5,610.4 502.0,610.9 503.5,611.3 505.0,610.9 506.5,610.5 508.0,610.9 509.5,611.4 511.0,611.1 512.5,610.9 514.0,611.1 515.5,611.3 517.0,611.0 518.5,610.7 520.0,610.7 521.5,610.7 523.0,610.5 524.5,610.4 526.0,610.8 527.5,611.3 529.0,611.4 530.5,611.5 532.0,611.8 533.5,612.1 535.0,611.8 536.5,611.6 538.0,611.4" fill="none" stroke="#000" stroke-width="1.2" stroke-linejoin="round"/>
<path d="M56.5,558.0 58.0,558.3 59.5,558.5 61.0,559.7 62.5,560.8 64.0,560.9 65.5,560.8 67.0,560.2 68.5,559.5 70.0,559.7 71.5,560.0 73.0,561.1 74.5,562.3 76.0,562.0 77.5,561.6 79.0,561.6 80.5,561.5 82.0,562.5 83.5,563.5 85.0,563.0 86.5,562.4 88.0,562.7 89.5,562.9 91.0,562.9 92.5,562.8 94.0,562.0 95.5,561.2 97.0,562.6 98.5,564.0 100.0,562.8 101.5,561.7 103.0,562.0 104.5,562.2 106.0,562.0 107.5,561.8 109.0,562.3 110.5,562.7 112.0,561.9 113.5,561.1 115.0,560.6 116.5,560.1 118.0,558.7 119.5,557.2 121.0,557.3 122.5,557.3 124.0,555.6 125.5,553.8 127.0,553.5 128.5,553.1 130.0,551.7 131.5,550.4 133.0,548.8 134.5,547.0 136.0,546.3 137.5,545.5 139.0,542.8 140.5,540.0 142.0,538.0 143.5,536.0 145.0,533.7 146.5,531.3 148.0,528.9 149.5,526.4 151.0,524.7 152.5,523.0 154.0,520.8 155.5,518.6 157.0,515.1 158.5,511.5 160.0,510.4 161.5,509.5 163.0,507.7 164.5,505.8 166.0,504.7 167.5,503.9 169.0,503.3 170.5,503.1 172.0,502.4 173.5,501.9 175.0,502.2 176.5,502.7 178.0,505.1 179.5,507.8 181.0,508.4 182.5,508.8 184.0,509.0 185.5,509.2 187.0,511.2 188.5,513.2 190.0,514.0 191.5,514.8 193.0,515.2 194.5,515.7 196.0,516.7 197.5,517.7 199.0,519.2 200.5,520.8 202.0,523.0 203.5,525.2 205.0,526.3 206.5,527.2 208.0,528.3 209.5,529.4 211.0,530.9 212.5,532.4 214.0,533.9 215.5,535.4 217.0,535.5 218.5,535.6 220.0,538.0 221.5,540.4 223.0,541.6 224.5,542.8 226.0,544.1 227.5,545.3 229.0,547.0 230.5,548.5 232.0,549.9 233.5,551.2 235.0,552.1 236.5,552.8 238.0,552.9 239.5,553.0 241.0,554.0 242.5,555.0 244.0,556.6 245.5,558.2 247.0,556.9 248.5,555.6 250.0,555.3 251.5,554.8 253.0,555.5 254.5,556.0 256.0,555.2 257.5,554.2 259.0,552.7 260.5,551.2 262.0,548.7 263.5,546.1 265.0,545.0 266.5,543.6 268.0,539.7 269.5,535.5 271.0,531.6 272.5,527.5 274.0,523.5 275.5,518.9 277.0,513.0 278.5,503.1 280.0,490.5 281.5,482.5 283.0,475.9 284.5,468.7 286.0,460.2 287.5,451.5 289.0,443.9 290.5,435.3 292.0,426.4 293.5,418.0 295.0,410.0 296.5,401.5 298.0,391.7 299.5,384.3 301.0,381.4 302.5,385.9 304.0,392.4 305.5,399.5 307.0,405.0 308.5,411.2 310.0,420.2 311.5,430.1 313.0,440.6 314.5,452.6 316.0,464.7 317.5,473.8 319.0,479.5 320.5,484.1 322.0,489.1 323.5,493.3 325.0,494.2 326.5,494.8 328.0,498.8 329.5,502.8 331.0,505.8 332.5,508.8 334.0,510.2 335.5,511.7 337.0,514.3 338.5,516.8 340.0,519.6 341.5,522.2 343.0,525.0 344.5,527.8 346.0,528.8 347.5,530.2 349.0,533.9 350.5,537.6 352.0,540.5 353.5,543.2 355.0,546.4 356.5,549.6 358.0,552.2 359.5,554.8 361.0,557.9 362.5,561.0 364.0,563.2 365.5,565.3 367.0,568.1 368.5,570.8 370.0,572.8 371.5,574.6 373.0,576.6 374.5,578.4 376.0,580.4 377.5,582.2 379.0,583.6 380.5,585.0 382.0,585.8 383.5,586.5 385.0,589.1 386.5,591.6 388.0,591.8 389.5,592.0 391.0,592.3 392.5,592.6 394.0,594.8 395.5,597.0 397.0,597.0 398.5,596.9 400.0,598.3 401.5,599.6 403.0,599.8 404.5,599.9 406.0,600.3 407.5,600.7 409.0,600.8 410.5,600.9 412.0,600.6 413.5,600.3 415.0,600.6 416.5,600.8 418.0,601.8 419.5,602.7 421.0,600.6 422.5,598.4 424.0,599.6 425.5,601.1 427.0,602.0 428.5,603.2 430.0,603.6 431.5,603.9 433.0,604.7 434.5,605.3 436.0,607.8 437.5,610.2 439.0,609.4 440.5,608.5 442.0,610.0 443.5,611.4 445.0,610.7 446.5,610.1 448.0,609.9 449.5,609.7 451.0,609.9 452.5,610.0 454.0,610.1 455.5,610.2 457.0,610.4 458.5,610.6 460.0,610.4 461.5,610.3 463.0,610.2 464.5,610.2 466.0,610.3 467.5,610.3 469.0,610.6 470.5,611.0 472.0,610.9 473.5,610.8 475.0,610.3 476.5,609.9 478.0,610.0 479.5,610.1 481.0,610.4 482.5,610.7 484.0,610.5 485.5,610.3 487.0,610.3 488.5,610.4 490.0,610.3 491.5,610.2 493.0,610.4 494.5,610.6 496.0,610.8 497.5,611.0 499.0,611.1 500.5,611.3 502.0,611.1 503.5,610.8 505.0,611.4 506.5,611.9 508.0,611.4 509.5,610.8 511.0,611.7 512.5,612.5 514.0,612.0 515.5,611.4 517.0,611.3 518.5,611.2 520.0,610.9 521.5,610.7 523.0,610.1 524.5,609.6 526.0,610.2 527.5,610.9 529.0,611.0 530.5,611.1 532.0,611.5 533.5,612.0 535.0,611.1 536.5,610.3 538.0,611.1" fill="none" stroke="#000" stroke-width="1.2" stroke-linejoin="round"/>
<path d="M56.5,556.5 58.0,555.4 59.5,554.3 61.0,556.0 62.5,557.7 64.0,557.8 65.5,557.8 67.0,558.5 68.5,559.2 70.0,559.1 71.5,558.9 73.0,558.4 74.5,558.0 76.0,559.2 77.5,560.4 79.0,560.5 80.5,560.6 82.0,560.8 83.5,561.1 85.0,561.6 86.5,562.0 88.0,562.3 89.5,562.5 91.0,562.0 92.5,561.5 94.0,560.8 95.5,560.1 97.0,560.0 98.5,559.9 100.0,561.2 101.5,562.5 103.0,562.1 104.5,561.6 106.0,561.2 107.5,560.8 109.0,560.3 110.5,559.7 112.0,559.6 113.5,559.4 115.0,558.9 116.5,558.4 118.0,557.7 119.5,556.9 121.0,556.1 122.5,555.1 124.0,555.6 125.5,555.9 127.0,553.7 128.5,551.4 130.0,549.6 131.5,547.8 133.0,546.1 134.5,544.2 136.0,542.8 137.5,541.4 139.0,540.2 140.5,539.1 142.0,537.2 143.5,535.3 145.0,532.8 146.5,530.2 148.0,528.2 149.5,526.1 151.0,523.8 152.5,521.4 154.0,518.8 155.5,516.2 157.0,515.1 158.5,513.9 160.0,511.2 161.5,508.8 163.0,508.2 164.5,507.7 166.0,504.7 167.5,502.2 169.0,502.1 170.5,502.5 172.0,503.2 173.5,503.9 175.0,503.7 176.5,503.6 178.0,503.9 179.5,504.5 181.0,506.0 182.5,507.3 184.0,508.8 185.5,510.3 187.0,511.4 188.5,512.5 190.0,513.3 191.5,514.2 193.0,515.7 194.5,517.3 196.0,518.4 197.5,519.4 199.0,520.2 200.5,520.9 202.0,521.8 203.5,522.7 205.0,523.7 206.5,524.5 208.0,526.0 209.5,527.4 211.0,528.7 212.5,530.1 214.0,530.9 215.5,531.7 217.0,533.2 218.5,534.8 220.0,535.9 221.5,537.0 223.0,537.9 224.5,538.9 226.0,540.5 227.5,542.1 229.0,544.2 230.5,546.3 232.0,547.3 233.5,548.2 235.0,549.7 236.5,551.2 238.0,551.2 239.5,551.1 241.0,552.1 242.5,553.1 244.0,553.7 245.5,554.3 247.0,554.4 248.5,554.5 250.0,553.9 251.5,552.9 253.0,552.9 254.5,552.7 256.0,552.0 257.5,550.9 259.0,548.9 260.5,546.9 262.0,546.0 263.5,544.8 265.0,543.0 266.5,540.8 268.0,537.2 269.5,533.1 271.0,530.8 272.5,528.2 274.0,523.0 275.5,517.2 277.0,511.3 278.5,500.9 280.0,487.0 281.5,478.4 283.0,471.8 284.5,464.8 286.0,457.6 287.5,450.2 289.0,441.9 290.5,432.2 292.0,424.0 293.5,416.2 295.0,406.3 296.5,395.7 298.0,385.7 299.5,378.4 301.0,374.8 302.5,379.7 304.0,385.5 305.5,391.7 307.0,399.8 308.5,408.6 310.0,417.2 311.5,426.6 313.0,438.0 314.5,450.4 316.0,461.9 317.5,470.6 319.0,476.7 320.5,481.9 322.0,485.3 323.5,487.7 325.0,490.2 326.5,492.5 328.0,494.2 329.5,495.9 331.0,497.8 332.5,500.0 334.0,502.6 335.5,505.4 337.0,508.1 338.5,510.8 340.0,512.4 341.5,513.8 343.0,516.6 344.5,519.6 346.0,523.3 347.5,527.3 349.0,529.3 350.5,531.2 352.0,534.4 353.5,537.3 355.0,540.2 356.5,543.0 358.0,545.6 359.5,548.3 361.0,552.7 362.5,557.1 364.0,559.5 365.5,561.8 367.0,564.7 368.5,567.4 370.0,570.8 371.5,574.0 373.0,576.5 374.5,578.9 376.0,579.0 377.5,579.0 379.0,581.6 380.5,584.0 382.0,585.2 383.5,586.4 385.0,587.6 386.5,588.8 388.0,590.0 389.5,591.2 391.0,592.0 392.5,592.8 394.0,594.6 395.5,596.5 397.0,597.0 398.5,597.5 400.0,598.3 401.5,598.8 403.0,599.8 404.5,600.7 406.0,600.8 407.5,600.9 409.0,600.9 410.5,600.8 412.0,600.9 413.5,600.8 415.0,601.5 416.5,602.2 418.0,601.6 419.5,600.9 421.0,600.6 422.5,600.3 424.0,600.0 425.5,599.9 427.0,601.0 428.5,602.3 430.0,603.1 431.5,603.9 433.0,605.4 434.5,606.7 436.0,607.5 437.5,608.2 439.0,607.5 440.5,606.8 442.0,608.1 443.5,609.4 445.0,609.8 446.5,610.2 448.0,610.0 449.5,609.8 451.0,609.5 452.5,609.3 454.0,609.9 455.5,610.5 457.0,610.1 458.5,609.6 460.0,609.5 461.5,609.4 463.0,609.5 464.5,609.6 466.0,609.9 467.5,610.2 469.0,610.5 470.5,610.8 472.0,610.9 473.5,610.9 475.0,610.7 476.5,610.5 478.0,610.2 479.5,609.9 481.0,610.0 482.5,610.2 484.0,610.2 485.5,610.1 487.0,610.3 488.5,610.5 490.0,610.2 491.5,609.8 493.0,610.3 494.5,610.8 496.0,610.9 497.5,611.1 499.0,610.9 500.5,610.7 502.0,610.9 503.5,611.1 505.0,610.7 506.5,610.4 508.0,610.3 509.5,610.2 511.0,610.4 512.5,610.6 514.0,611.0 515.5,611.5 517.0,611.5 518.5,611.5 520.0,611.1 521.5,610.7 523.0,611.2 524.5,611.6 526.0,611.2 527.5,610.8 529.0,611.3 530.5,611.7 532.0,611.5 533.5,611.2 535.0,611.0 536.5,610.8 538.0,611.1" fill="none" stroke="#000" stroke-width="1.2" stroke-linejoin="round"/>
<path d="M56.5,553.1 58.0,553.3 59.5,553.6 61.0,554.9 62.5,556.1 64.0,556.2 65.5,556.3 67.0,556.5 68.5,556.6 70.0,556.6 71.5,556.6 73.0,557.6 74.5,558.7 76.0,557.9 77.5,557.1 79.0,557.2 80.5,557.3 82.0,558.6 83.5,559.9 85.0,560.3 86.5,560.7 88.0,560.4 89.5,560.0 91.0,559.1 92.5,558.0 94.0,558.6 95.5,559.1 97.0,559.7 98.5,560.2 100.0,559.8 101.5,559.4 103.0,560.0 104.5,560.6 106.0,559.0 107.5,557.4 109.0,558.2 110.5,559.0 112.0,558.0 113.5,556.9 115.0,557.5 116.5,558.0 118.0,556.8 119.5,555.5 121.0,555.4 122.5,555.2 124.0,553.4 125.5,551.5 127.0,549.9 128.5,548.2 130.0,547.0 131.5,545.7 133.0,544.6 134.5,543.4 136.0,541.6 137.5,539.7 139.0,539.1 140.5,538.4 142.0,536.7 143.5,534.9 145.0,532.4 146.5,529.9 148.0,527.2 149.5,524.5 151.0,522.9 152.5,521.2 154.0,518.8 155.5,516.4 157.0,515.3 158.5,514.0 160.0,511.1 161.5,508.6 163.0,507.1 164.5,505.7 166.0,503.9 167.5,502.5 169.0,501.4 170.5,500.6 172.0,501.4 173.5,502.3 175.0,502.4 176.5,502.6 178.0,504.2 179.5,506.1 181.0,507.2 182.5,508.2 184.0,508.6 185.5,509.1 187.0,510.2 188.5,511.3 190.0,513.2 191.5,515.1 193.0,514.7 194.5,514.3 196.0,515.3 197.5,516.2 199.0,517.5 200.5,518.7 202.0,519.4 203.5,520.1 205.0,521.1 206.5,522.2 208.0,523.6 209.5,525.0 211.0,526.6 212.5,528.2 214.0,527.6 215.5,527.0 217.0,529.1 218.5,531.3 220.0,532.8 221.5,534.2 223.0,535.6 224.5,537.0 226.0,538.3 227.5,539.6 229.0,540.8 230.5,541.9 232.0,543.6 233.5,545.4 235.0,545.6 236.5,545.8 238.0,546.7 239.5,547.6 241.0,548.4 242.5,549.0 244.0,549.5 245.5,549.9 247.0,550.1 248.5,550.3 250.0,551.1 251.5,551.6 253.0,551.0 254.5,550.1 256.0,549.3 257.5,548.1 259.0,546.6 260.5,545.0 262.0,542.9 263.5,540.5 265.0,538.5 266.5,536.2 268.0,533.3 269.5,529.9 271.0,527.0 272.5,524.0 274.0,519.7 275.5,514.8 277.0,508.9 278.5,498.0 280.0,483.8 281.5,475.8 283.0,469.7 284.5,463.4 286.0,455.0 287.5,446.3 289.0,439.9 290.5,431.6 292.0,421.4 293.5,411.6 295.0,401.6 296.5,390.7 298.0,380.5 299.5,373.0 301.0,368.9 302.5,374.4 304.0,381.1 305.5,388.3 307.0,397.7 308.5,407.7 310.0,415.5 311.5,424.0 313.0,434.8 314.5,446.3 316.0,458.6 317.5,467.8 319.0,471.6 320.5,474.5 322.0,478.4 323.5,481.3 325.0,483.6 326.5,485.7 328.0,488.3 329.5,490.9 331.0,491.0 332.5,491.3 334.0,494.0 335.5,496.8 337.0,499.8 338.5,502.7 340.0,504.8 341.5,506.7 343.0,508.3 344.5,510.1 346.0,513.6 347.5,517.6 349.0,521.0 350.5,524.4 352.0,528.0 353.5,531.5 355.0,535.2 356.5,538.8 358.0,542.0 359.5,545.2 361.0,548.2 362.5,551.3 364.0,554.5 365.5,557.6 367.0,559.8 368.5,562.0 370.0,565.3 371.5,568.4 373.0,571.1 374.5,573.5 376.0,575.2 377.5,576.7 379.0,578.7 380.5,580.7 382.0,581.8 383.5,582.8 385.0,585.5 386.5,588.0 388.0,589.7 389.5,591.3 391.0,591.2 392.5,591.1 394.0,592.6 395.5,594.2 397.0,595.1 398.5,595.8 400.0,597.5 401.5,599.1 403.0,599.3 404.5,599.3 406.0,599.5 407.5,599.6 409.0,599.7 410.5,599.7 412.0,600.0 413.5,600.3 415.0,599.7 416.5,599.1 418.0,600.0 419.5,600.8 421.0,600.1 422.5,599.4 424.0,600.1 425.5,601.1 427.0,601.7 428.5,602.6 430.0,604.3 431.5,605.9 433.0,606.3 434.5,606.5 436.0,607.7 437.5,608.9 439.0,608.4 440.5,607.9 442.0,609.0 443.5,610.0 445.0,609.7 446.5,609.3 448.0,609.6 449.5,609.9 451.0,609.8 452.5,609.8 454.0,610.1 455.5,610.4 457.0,609.7 458.5,609.0 460.0,609.6 461.5,610.2 463.0,609.8 464.5,609.4 466.0,610.1 467.5,610.8 469.0,610.1 470.5,609.3 472.0,609.6 473.5,609.9 475.0,609.7 476.5,609.6 478.0,610.4 479.5,611.3 481.0,610.6 482.5,609.9 484.0,610.3 485.5,610.6 487.0,610.5 488.5,610.4 490.0,610.1 491.5,609.8 493.0,610.2 494.5,610.6 496.0,610.8 497.5,611.1 499.0,610.9 500.5,610.7 502.0,611.0 503.5,611.3 505.0,611.0 506.5,610.7 508.0,610.8 509.5,610.9 511.0,610.8 512.5,610.7 514.0,610.9 515.5,611.1 517.0,611.5 518.5,611.9 520.0,611.5 521.5,611.1 523.0,611.1 524.5,611.1 526.0,610.9 527.5,610.7 529.0,610.6 530.5,610.6 532.0,611.2 533.5,611.7 535.0,611.1 536.5,610.4 538.0,610.5" fill="none" stroke="#000" stroke-width="1.2" stroke-linejoin="round"/>
<path d="M56.5,551.8 58.0,553.5 59.5,555.2 61.0,553.5 62.5,551.7 64.0,553.4 65.5,555.0 67.0,555.3 68.5,555.6 70.0,554.8 71.5,554.0 73.0,554.4 74.5,554.7 76.0,555.4 77.5,556.1 79.0,556.9 80.5,557.8 82.0,556.9 83.5,555.9 85.0,555.9 86.5,555.9 88.0,557.4 89.5,558.9 91.0,559.3 92.5,559.6 94.0,558.6 95.5,557.6 97.0,556.6 98.5,555.6 100.0,557.3 101.5,559.0 103.0,558.0 104.5,557.1 106.0,557.6 107.5,558.0 109.0,557.2 110.5,556.4 112.0,555.9 113.5,555.4 115.0,555.0 116.5,554.5 118.0,555.0 119.5,555.4 121.0,554.8 122.5,554.0 124.0,551.3 125.5,548.4 127.0,547.8 128.5,547.1 130.0,547.1 131.5,547.0 133.0,544.6 134.5,542.1 136.0,540.1 137.5,538.0 139.0,537.1 140.5,536.1 142.0,534.3 143.5,532.5 145.0,530.7 146.5,528.8 148.0,526.7 149.5,524.5 151.0,522.6 152.5,520.7 154.0,518.6 155.5,516.4 157.0,514.7 158.5,512.7 160.0,509.9 161.5,507.4 163.0,506.1 164.5,504.8 166.0,503.6 167.5,502.7 169.0,503.1 170.5,503.9 172.0,503.6 173.5,503.4 175.0,503.4 176.5,503.6 178.0,504.7 179.5,506.1 181.0,507.3 182.5,508.3 184.0,509.5 185.5,510.7 187.0,511.2 188.5,511.7 190.0,513.1 191.5,514.5 193.0,515.1 194.5,515.6 196.0,515.7 197.5,515.8 199.0,516.4 200.5,517.0 202.0,518.4 203.5,519.8 205.0,520.3 206.5,520.9 208.0,521.4 209.5,521.9 211.0,522.1 212.5,522.4 214.0,523.2 215.5,524.0 217.0,526.3 218.5,528.7 220.0,530.2 221.5,531.8 223.0,533.3 224.5,534.7 226.0,535.0 227.5,535.3 229.0,537.6 230.5,539.9 232.0,540.2 233.5,540.4 235.0,541.9 236.5,543.3 238.0,544.1 239.5,544.9 241.0,545.0 242.5,545.0 244.0,545.6 245.5,546.1 247.0,545.7 248.5,545.3 250.0,546.1 251.5,546.8 253.0,546.3 254.5,545.5 256.0,545.7 257.5,545.6 259.0,543.9 260.5,542.3 262.0,541.1 263.5,539.6 265.0,537.2 266.5,534.6 268.0,531.4 269.5,527.7 271.0,524.8 272.5,521.7 274.0,517.7 275.5,513.1 277.0,508.0 278.5,497.5 280.0,481.7 281.5,472.7 283.0,466.0 284.5,459.3 286.0,453.0 287.5,446.4 289.0,438.2 290.5,427.9 292.0,418.1 293.5,408.9 295.0,399.3 296.5,388.8 298.0,378.5 299.5,370.4 301.0,365.6 302.5,370.9 304.0,378.3 305.5,386.2 307.0,393.5 308.5,401.3 310.0,412.0 311.5,423.2 313.0,433.2 314.5,443.6 316.0,454.1 317.5,461.6 319.0,467.0 320.5,471.4 322.0,474.3 323.5,476.4 325.0,477.4 326.5,478.2 328.0,479.6 329.5,481.1 331.0,482.2 332.5,483.6 334.0,486.6 335.5,489.8 337.0,491.3 338.5,492.7 340.0,495.7 341.5,498.5 343.0,501.9 344.5,505.5 346.0,507.4 347.5,509.8 349.0,513.7 350.5,517.8 352.0,521.2 353.5,524.4 355.0,527.4 356.5,530.4 358.0,534.5 359.5,538.6 361.0,542.5 362.5,546.3 364.0,549.1 365.5,551.7 367.0,555.6 368.5,559.4 370.0,562.9 371.5,566.3 373.0,568.9 374.5,571.2 376.0,572.1 377.5,572.8 379.0,575.1 380.5,577.2 382.0,578.6 383.5,579.9 385.0,582.9 386.5,585.7 388.0,587.0 389.5,588.1 391.0,589.5 392.5,590.8 394.0,591.3 395.5,591.8 397.0,593.0 398.5,594.0 400.0,595.7 401.5,597.3 403.0,597.9 404.5,598.4 406.0,598.3 407.5,598.2 409.0,599.0 410.5,599.7 412.0,600.1 413.5,600.4 415.0,600.2 416.5,600.0 418.0,599.4 419.5,598.8 421.0,598.3 422.5,597.8 424.0,598.8 425.5,600.1 427.0,601.1 428.5,602.5 430.0,603.6 431.5,604.5 433.0,605.3 434.5,606.0 436.0,606.5 437.5,607.1 439.0,608.3 440.5,609.5 442.0,609.5 443.5,609.3 445.0,609.5 446.5,609.7 448.0,609.2 449.5,608.7 451.0,609.3 452.5,609.5 454.0,609.7 455.5,610.0 457.0,609.7 458.5,609.5 460.0,609.5 461.5,609.4 463.0,609.7 464.5,610.0 466.0,610.4 467.5,610.8 469.0,610.6 470.5,610.4 472.0,610.7 473.5,611.1 475.0,610.7 476.5,610.4 478.0,610.4 479.5,610.3 481.0,610.1 482.5,609.9 484.0,610.1 485.5,610.3 487.0,610.8 488.5,611.4 490.0,611.1 491.5,610.9 493.0,611.0 494.5,611.1 496.0,611.1 497.5,611.1 499.0,611.0 500.5,610.8 502.0,610.8 503.5,610.7 505.0,610.8 506.5,610.9 508.0,611.1 509.5,611.2 511.0,611.2 512.5,611.1 514.0,611.2 515.5,611.2 517.0,611.1 518.5,611.0 520.0,610.8 521.5,610.6 523.0,610.7 524.5,610.8 526.0,610.7 527.5,610.5 529.0,611.0 530.5,611.5 532.0,610.7 533.5,609.9 535.0,610.4 536.5,610.9 538.0,611.5" fill="none" stroke="#000" stroke-width="1.2" stroke-linejoin="round"/>
<path d="M56.5,549.3 58.0,550.4 59.5,551.5 61.0,552.6 62.5,553.6 64.0,553.2 65.5,552.7 67.0,553.2 68.5,553.7 70.0,553.6 71.5,553.4 73.0,553.3 74.5,553.2 76.0,555.0 77.5,557.0 79.0,555.7 80.5,554.4 82.0,554.4 83.5,554.5 85.0,554.9 86.5,555.2 88.0,555.9 89.5,556.6 91.0,556.7 92.5,556.7 94.0,556.9 95.5,557.0 97.0,556.6 98.5,556.2 100.0,555.3 101.5,554.3 103.0,555.2 104.5,556.0 106.0,555.4 107.5,554.7 109.0,554.5 110.5,554.3 112.0,553.4 113.5,552.5 115.0,552.6 116.5,552.6 118.0,552.1 119.5,551.5 121.0,551.3 122.5,551.0 124.0,549.3 125.5,547.5 127.0,547.0 128.5,546.5 130.0,545.1 131.5,543.8 133.0,541.9 134.5,539.9 136.0,538.7 137.5,537.4 139.0,535.8 140.5,534.1 142.0,533.3 143.5,532.5 145.0,529.1 146.5,525.6 148.0,524.9 149.5,524.1 151.0,521.6 152.5,519.0 154.0,517.6 155.5,516.3 157.0,514.8 158.5,513.1 160.0,510.1 161.5,507.5 163.0,506.3 164.5,505.2 166.0,503.4 167.5,502.0 169.0,503.1 170.5,504.5 172.0,504.2 173.5,503.9 175.0,504.3 176.5,504.8 178.0,504.3 179.5,504.2 181.0,505.5 182.5,506.7 184.0,508.6 185.5,510.5 187.0,510.6 188.5,510.7 190.0,511.3 191.5,512.0 193.0,513.0 194.5,514.0 196.0,513.9 197.5,513.8 199.0,515.5 200.5,517.2 202.0,517.5 203.5,517.8 205.0,518.7 206.5,519.6 208.0,519.7 209.5,519.8 211.0,521.2 212.5,522.6 214.0,522.8 215.5,523.1 217.0,525.0 218.5,527.0 220.0,528.4 221.5,529.8 223.0,531.0 224.5,532.3 226.0,533.4 227.5,534.4 229.0,535.6 230.5,536.6 232.0,536.0 233.5,535.3 235.0,538.0 236.5,540.7 238.0,541.0 239.5,541.2 241.0,542.1 242.5,542.9 244.0,543.2 245.5,543.4 247.0,543.2 248.5,543.0 250.0,543.6 251.5,544.2 253.0,544.8 254.5,545.1 256.0,544.6 257.5,543.7 259.0,541.2 260.5,538.7 262.0,537.0 263.5,535.0 265.0,534.1 266.5,532.9 268.0,529.1 269.5,524.8 271.0,523.0 272.5,521.0 274.0,516.6 275.5,511.6 277.0,505.7 278.5,493.9 280.0,478.4 281.5,470.2 283.0,464.7 284.5,459.3 286.0,451.4 287.5,443.2 289.0,436.5 290.5,427.2 292.0,416.6 293.5,406.5 295.0,397.0 296.5,386.6 298.0,374.9 299.5,365.0 301.0,360.4 302.5,366.5 304.0,375.4 305.5,384.7 307.0,393.4 308.5,402.5 310.0,412.9 311.5,423.6 313.0,433.5 314.5,443.4 316.0,453.9 317.5,461.3 319.0,464.3 320.5,466.4 322.0,468.3 323.5,469.7 325.0,471.1 326.5,472.3 328.0,472.9 329.5,473.5 331.0,474.9 332.5,476.7 334.0,477.5 335.5,478.7 337.0,482.6 338.5,486.5 340.0,488.8 341.5,490.9 343.0,494.5 344.5,498.3 346.0,500.3 347.5,503.0 349.0,506.4 350.5,509.8 352.0,514.3 353.5,518.6 355.0,521.5 356.5,524.4 358.0,528.5 359.5,532.6 361.0,535.8 362.5,539.0 364.0,544.5 365.5,549.7 367.0,552.7 368.5,555.7 370.0,558.1 371.5,560.3 373.0,563.8 374.5,567.0 376.0,569.9 377.5,572.6 379.0,574.5 380.5,576.2 382.0,578.0 383.5,579.8 385.0,580.9 386.5,581.9 388.0,583.6 389.5,585.3 391.0,587.1 392.5,588.8 394.0,590.7 395.5,592.5 397.0,593.1 398.5,593.5 400.0,594.6 401.5,595.4 403.0,597.3 404.5,598.9 406.0,598.3 407.5,597.6 409.0,599.0 410.5,600.2 412.0,599.9 413.5,599.6 415.0,600.0 416.5,600.3 418.0,600.8 419.5,601.2 421.0,600.8 422.5,600.3 424.0,600.4 425.5,600.9 427.0,600.9 428.5,601.3 430.0,602.7 431.5,604.0 433.0,605.6 434.5,607.0 436.0,608.1 437.5,609.2 439.0,609.7 440.5,610.1 442.0,611.0 443.5,611.7 445.0,610.8 446.5,609.9 448.0,609.9 449.5,609.9 451.0,610.0 452.5,610.3 454.0,610.1 455.5,609.9 457.0,609.9 458.5,610.0 460.0,609.7 461.5,609.5 463.0,610.1 464.5,610.6 466.0,610.2 467.5,609.7 469.0,610.1 470.5,610.6 472.0,610.1 473.5,609.7 475.0,610.3 476.5,611.0 478.0,610.5 479.5,610.0 481.0,610.5 482.5,611.0 484.0,610.4 485.5,609.8 487.0,610.1 488.5,610.4 490.0,610.9 491.5,611.3 493.0,610.8 494.5,610.3 496.0,610.6 497.5,610.8 499.0,610.7 500.5,610.6 502.0,610.1 503.5,609.7 505.0,610.4 506.5,611.0 508.0,611.1 509.5,611.1 511.0,610.7 512.5,610.4 514.0,610.8 515.5,611.2 517.0,610.9 518.5,610.6 520.0,610.5 521.5,610.5 523.0,610.7 524.5,611.0 526.0,610.8 527.5,610.6 529.0,611.4 530.5,612.1 532.0,611.2 533.5,610.2 535.0,610.8 536.5,611.4 538.0,611.4" fill="none" stroke="#000" stroke-width="1.2" stroke-linejoin="round"/>
<path d="M56.5,546.9 58.0,548.6 59.5,550.3 61.0,550.2 62.5,550.1 64.0,550.8 65.5,551.4 67.0,552.0 68.5,552.4 70.0,551.8 71.5,551.1 73.0,550.9 74.5,550.6 76.0,549.9 77.5,549.2 79.0,550.9 80.5,552.7 82.0,552.5 83.5,552.3 85.0,553.3 86.5,554.2 88.0,554.5 89.5,554.7 91.0,554.0 92.5,553.2 94.0,554.7 95.5,556.2 97.0,555.8 98.5,555.4 100.0,555.1 101.5,554.8 103.0,553.6 104.5,552.4 106.0,552.6 107.5,552.8 109.0,552.5 110.5,552.2 112.0,552.0 113.5,551.8 115.0,551.1 116.5,550.4 118.0,550.7 119.5,551.0 121.0,550.4 122.5,549.6 124.0,548.8 125.5,547.8 127.0,546.1 128.5,544.3 130.0,543.8 131.5,543.4 133.0,541.6 134.5,539.7 136.0,536.8 137.5,534.0 139.0,533.6 140.5,533.1 142.0,531.9 143.5,530.6 145.0,529.5 146.5,528.4 148.0,526.0 149.5,523.6 151.0,521.9 152.5,520.0 154.0,518.0 155.5,515.8 157.0,514.4 158.5,512.8 160.0,510.0 161.5,507.6 163.0,506.0 164.5,504.4 166.0,503.1 167.5,502.1 169.0,502.4 170.5,503.1 172.0,502.7 173.5,502.4 175.0,502.2 176.5,502.0 178.0,503.9 179.5,506.1 181.0,506.6 182.5,507.0 184.0,508.4 185.5,509.6 187.0,510.3 188.5,511.0 190.0,512.1 191.5,513.1 193.0,513.7 194.5,514.2 196.0,514.0 197.5,513.8 199.0,514.6 200.5,515.4 202.0,515.4 203.5,515.4 205.0,517.4 206.5,519.5 208.0,519.4 209.5,519.4 211.0,520.5 212.5,521.7 214.0,521.6 215.5,521.5 217.0,521.6 218.5,521.8 220.0,524.8 221.5,527.8 223.0,528.4 224.5,528.9 226.0,530.1 227.5,531.3 229.0,532.3 230.5,533.2 232.0,534.4 233.5,535.7 235.0,536.5 236.5,537.3 238.0,537.1 239.5,536.8 241.0,538.9 242.5,540.8 244.0,540.5 245.5,540.1 247.0,540.5 248.5,540.8 250.0,542.2 251.5,543.5 253.0,543.2 254.5,542.6 256.0,541.1 257.5,539.1 259.0,536.9 260.5,534.7 262.0,534.0 263.5,533.2 265.0,531.3 266.5,529.2 268.0,526.3 269.5,523.0 271.0,519.2 272.5,515.2 274.0,512.2 275.5,508.7 277.0,503.3 278.5,491.4 280.0,474.8 281.5,466.3 283.0,461.0 284.5,455.8 286.0,450.1 287.5,444.0 289.0,434.8 290.5,422.8 292.0,413.4 293.5,404.5 295.0,394.2 296.5,382.9 298.0,371.5 299.5,361.6 301.0,357.6 302.5,364.9 304.0,374.3 305.5,384.0 307.0,391.8 308.5,399.9 310.0,410.2 311.5,420.9 313.0,430.2 314.5,439.2 316.0,450.2 317.5,458.0 319.0,460.2 320.5,461.4 322.0,463.8 323.5,465.9 325.0,467.5 326.5,468.8 328.0,469.8 329.5,470.9 331.0,471.4 332.5,472.2 334.0,473.8 335.5,475.9 337.0,478.1 338.5,480.3 340.0,482.3 341.5,484.2 343.0,486.7 344.5,489.5 346.0,492.9 347.5,497.0 349.0,500.5 350.5,504.1 352.0,509.1 353.5,513.9 355.0,516.9 356.5,519.9 358.0,523.5 359.5,527.1 361.0,531.5 362.5,536.0 364.0,539.6 365.5,543.1 367.0,546.9 368.5,550.6 370.0,555.3 371.5,559.9 373.0,562.3 374.5,564.4 376.0,567.2 377.5,569.8 379.0,572.5 380.5,575.0 382.0,577.0 383.5,579.0 385.0,580.0 386.5,580.9 388.0,583.5 389.5,586.0 391.0,587.1 392.5,588.1 394.0,589.4 395.5,590.8 397.0,592.5 398.5,594.1 400.0,594.5 401.5,594.6 403.0,595.7 404.5,596.5 406.0,597.3 407.5,598.1 409.0,598.8 410.5,599.4 412.0,599.1 413.5,598.7 415.0,598.9 416.5,599.1 418.0,599.7 419.5,600.2 421.0,600.5 422.5,600.8 424.0,600.6 425.5,600.7 427.0,601.9 428.5,603.4 430.0,603.9 431.5,604.2 433.0,605.2 434.5,605.9 436.0,606.9 437.5,607.9 439.0,608.2 440.5,608.4 442.0,608.7 443.5,608.9 445.0,610.1 446.5,611.2 448.0,610.4 449.5,609.5 451.0,609.4 452.5,609.3 454.0,609.7 455.5,610.1 457.0,610.5 458.5,610.9 460.0,610.5 461.5,610.1 463.0,610.4 464.5,610.8 466.0,610.4 467.5,610.0 469.0,610.0 470.5,610.1 472.0,610.1 473.5,610.0 475.0,610.2 476.5,610.4 478.0,610.9 479.5,611.4 481.0,610.7 482.5,610.0 484.0,610.7 485.5,611.4 487.0,610.8 488.5,610.2 490.0,610.4 491.5,610.6 493.0,610.9 494.5,611.2 496.0,611.1 497.5,611.1 499.0,611.0 500.5,611.0 502.0,610.5 503.5,610.0 505.0,610.5 506.5,611.1 508.0,610.7 509.5,610.4 511.0,611.3 512.5,612.2 514.0,611.5 515.5,610.8 517.0,610.9 518.5,611.0 520.0,610.7 521.5,610.4 523.0,610.6 524.5,610.7 526.0,610.5 527.5,610.3 529.0,610.9 530.5,611.5 532.0,611.2 533.5,610.9 535.0,611.1 536.5,611.3 538.0,611.0" fill="none" stroke="#000" stroke-width="1.2" stroke-linejoin="round"/>
<line x1="326.5" y1="563.4" x2="373.3" y2="530.2" stroke="#000" stroke-width="1.0"/><polygon points="382.3,523.8 375.2,532.8 371.4,527.5" fill="#000"/>
<path d="M56.5,584.3 58.0,583.9 59.5,583.6 61.0,583.6 62.5,583.6 64.0,584.6 65.5,585.5 67.0,585.3 68.5,585.0 70.0,585.4 71.5,585.8 73.0,586.4 74.5,587.0 76.0,586.6 77.5,586.2 79.0,586.8 80.5,587.5 82.0,587.1 83.5,586.8 85.0,587.5 86.5,588.3 88.0,588.3 89.5,588.3 91.0,587.8 92.5,587.2 94.0,587.3 95.5,587.4 97.0,587.2 98.5,587.0 100.0,587.2 101.5,587.5 103.0,587.8 104.5,588.0 106.0,587.2 107.5,586.4 109.0,587.1 110.5,587.7 112.0,586.9 113.5,586.1 115.0,586.0 116.5,585.8 118.0,585.1 119.5,584.4 121.0,585.2 122.5,585.9 124.0,584.8 125.5,583.8 127.0,583.3 128.5,582.9 130.0,582.1 131.5,581.2 133.0,581.0 134.5,580.8 136.0,578.9 137.5,576.8 139.0,576.0 140.5,574.8 142.0,573.5 143.5,572.1 145.0,569.2 146.5,566.4 148.0,564.1 149.5,561.6 151.0,559.0 152.5,556.5 154.0,553.7 155.5,551.2 157.0,549.7 158.5,548.0 160.0,546.5 161.5,545.1 163.0,543.3 164.5,541.7 166.0,540.7 167.5,540.1 169.0,539.7 170.5,539.8 172.0,540.6 173.5,541.8 175.0,542.8 176.5,544.0 178.0,545.7 179.5,547.4 181.0,548.9 182.5,550.5 184.0,552.2 185.5,554.0 187.0,555.4 188.5,556.8 190.0,559.6 191.5,562.6 193.0,564.7 194.5,566.9 196.0,568.5 197.5,570.0 199.0,571.6 200.5,572.9 202.0,574.7 203.5,576.2 205.0,578.1 206.5,580.0 208.0,580.5 209.5,581.0 211.0,582.2 212.5,583.4 214.0,584.4 215.5,585.4 217.0,586.4 218.5,587.3 220.0,587.5 221.5,587.7 223.0,588.1 224.5,588.5 226.0,588.8 227.5,589.0 229.0,590.0 230.5,590.8 232.0,590.7 233.5,590.7 235.0,590.4 236.5,590.1 238.0,589.8 239.5,589.5 241.0,589.7 242.5,589.9 244.0,590.3 245.5,590.7 247.0,590.3 248.5,589.9 250.0,590.2 251.5,590.5 253.0,590.2 254.5,589.8 256.0,589.4 257.5,589.1 259.0,588.9 260.5,588.5 262.0,587.8 263.5,586.9 265.0,585.4 266.5,583.9 268.0,582.8 269.5,581.6 271.0,580.6 272.5,579.3 274.0,575.8 275.5,572.0 277.0,568.7 278.5,564.6 280.0,560.1 281.5,555.2 283.0,548.8 284.5,541.4 286.0,533.3 287.5,523.5 289.0,511.4 290.5,499.2 292.0,487.8 293.5,476.4 295.0,464.3 296.5,452.2 298.0,443.2 299.5,435.6 301.0,430.3 302.5,429.5 304.0,429.8 305.5,431.5 307.0,437.8 308.5,444.9 310.0,453.6 311.5,463.4 313.0,473.5 314.5,484.6 316.0,498.9 317.5,515.2 319.0,529.3 320.5,539.8 322.0,548.9 323.5,556.8 325.0,562.6 326.5,567.1 328.0,572.0 329.5,576.7 331.0,580.5 332.5,584.0 334.0,586.8 335.5,588.8 337.0,591.0 338.5,593.1 340.0,594.2 341.5,595.2 343.0,596.7 344.5,598.1 346.0,598.9 347.5,599.6 349.0,600.1 350.5,600.6 352.0,601.4 353.5,602.2 355.0,602.5 356.5,602.8 358.0,603.4 359.5,604.0 361.0,604.0 362.5,604.0 364.0,604.8 365.5,605.6 367.0,605.7 368.5,605.8 370.0,606.1 371.5,606.5 373.0,606.8 374.5,607.1 376.0,607.3 377.5,607.5 379.0,607.0 380.5,606.4 382.0,606.4 383.5,606.4 385.0,606.7 386.5,607.0 388.0,607.1 389.5,607.2 391.0,607.0 392.5,606.9 394.0,606.9 395.5,607.0 397.0,606.9 398.5,606.9 400.0,606.5 401.5,606.0 403.0,605.7 404.5,605.3 406.0,604.8 407.5,604.3 409.0,604.2 410.5,604.1 412.0,604.1 413.5,604.2 415.0,604.3 416.5,604.6 418.0,604.5 419.5,604.5 421.0,604.5 422.5,604.4 424.0,604.4 425.5,604.5 427.0,605.1 428.5,606.0 430.0,606.6 431.5,607.2 433.0,608.0 434.5,608.6 436.0,609.0 437.5,609.3 439.0,609.3 440.5,609.3 442.0,609.4 443.5,609.4 445.0,610.0 446.5,610.6 448.0,610.6 449.5,610.6 451.0,610.4 452.5,610.3 454.0,610.3 455.5,610.2 457.0,611.1 458.5,611.9 460.0,611.0 461.5,610.1 463.0,610.3 464.5,610.5 466.0,610.7 467.5,610.9 469.0,610.4 470.5,610.0 472.0,610.5 473.5,610.9 475.0,611.4 476.5,611.9 478.0,611.7 479.5,611.4 481.0,611.4 482.5,611.3 484.0,611.3 485.5,611.3 487.0,611.2 488.5,611.0 490.0,611.3 491.5,611.6 493.0,611.3 494.5,610.9 496.0,610.9 497.5,610.8 499.0,611.0 500.5,611.1 502.0,611.4 503.5,611.6 505.0,611.5 506.5,611.3 508.0,611.4 509.5,611.5 511.0,610.7 512.5,609.9 514.0,610.9 515.5,611.9 517.0,612.2 518.5,612.6 520.0,612.3 521.5,612.0 523.0,611.5 524.5,611.0 526.0,610.8 527.5,610.7 529.0,611.0 530.5,611.4 532.0,611.0 533.5,610.6 535.0,611.1 536.5,611.6 538.0,611.3" fill="none" stroke="#f00" stroke-width="2.9" stroke-linejoin="round"/>
<path d="M56.5,547.4 58.0,547.0 59.5,546.5 61.0,547.7 62.5,548.8 64.0,548.8 65.5,548.6 67.0,548.6 68.5,548.5 70.0,548.8 71.5,549.1 73.0,549.3 74.5,549.5 76.0,550.0 77.5,550.6 79.0,550.0 80.5,549.6 82.0,550.7 83.5,551.8 85.0,552.5 86.5,553.1 88.0,553.0 89.5,552.8 91.0,552.9 92.5,552.9 94.0,552.7 95.5,552.5 97.0,552.0 98.5,551.6 100.0,551.9 101.5,552.3 103.0,552.1 104.5,551.8 106.0,551.7 107.5,551.6 109.0,552.0 110.5,552.3 112.0,551.5 113.5,550.6 115.0,550.2 116.5,549.8 118.0,549.7 119.5,549.5 121.0,548.1 122.5,546.6 124.0,545.8 125.5,544.7 127.0,543.8 128.5,542.7 130.0,541.3 131.5,539.9 133.0,539.0 134.5,538.2 136.0,536.6 137.5,534.9 139.0,534.2 140.5,533.3 142.0,531.8 143.5,530.2 145.0,528.3 146.5,526.2 148.0,523.9 149.5,521.5 151.0,519.9 152.5,518.4 154.0,516.8 155.5,515.5 157.0,513.7 158.5,511.9 160.0,511.1 161.5,510.3 163.0,509.2 164.5,508.3 166.0,507.2 167.5,506.2 169.0,506.0 170.5,506.0 172.0,505.7 173.5,505.5 175.0,505.1 176.5,504.6 178.0,505.2 179.5,505.8 181.0,505.9 182.5,506.0 184.0,506.8 185.5,507.6 187.0,507.5 188.5,507.3 190.0,508.1 191.5,508.9 193.0,509.0 194.5,509.2 196.0,509.6 197.5,510.2 199.0,510.2 200.5,510.3 202.0,510.5 203.5,510.9 205.0,512.7 206.5,514.6 208.0,515.0 209.5,515.5 211.0,517.1 212.5,518.6 214.0,519.4 215.5,520.2 217.0,521.3 218.5,522.4 220.0,523.9 221.5,525.3 223.0,526.0 224.5,526.7 226.0,528.2 227.5,529.7 229.0,530.1 230.5,530.6 232.0,533.0 233.5,535.2 235.0,535.5 236.5,534.8 238.0,534.3 239.5,534.4 241.0,535.2 242.5,536.5 244.0,537.9 245.5,538.9 247.0,539.7 248.5,540.4 250.0,539.6 251.5,538.7 253.0,539.4 254.5,539.5 256.0,537.8 257.5,535.6 259.0,534.3 260.5,533.5 262.0,531.7 263.5,529.9 265.0,528.6 266.5,527.0 268.0,524.3 269.5,521.0 271.0,517.9 272.5,514.8 274.0,511.2 275.5,507.3 277.0,502.4 278.5,496.7 280.0,490.7 281.5,484.3 283.0,477.0 284.5,469.6 286.0,463.3 287.5,457.3 289.0,451.5 290.5,445.4 292.0,439.1 293.5,433.8 295.0,431.1 296.5,430.2 298.0,428.3 299.5,427.0 301.0,427.1 302.5,427.4 304.0,428.0 305.5,428.9 307.0,431.3 308.5,434.7 310.0,438.4 311.5,441.8 313.0,444.8 314.5,447.9 316.0,451.0 317.5,453.9 319.0,457.0 320.5,460.2 322.0,462.2 323.5,462.9 325.0,462.0 326.5,461.1 328.0,464.0 329.5,466.4 331.0,467.1 332.5,468.7 334.0,469.5 335.5,471.2 337.0,474.5 338.5,477.0 340.0,479.4 341.5,482.1 343.0,484.1 344.5,486.4 346.0,489.1 347.5,492.4 349.0,496.9 350.5,501.4 352.0,505.9 353.5,510.1 355.0,514.2 356.5,518.3 358.0,521.7 359.5,525.0 361.0,529.6 362.5,534.2 364.0,538.0 365.5,541.7 367.0,545.6 368.5,549.5 370.0,553.1 371.5,556.6 373.0,559.2 374.5,561.6 376.0,563.9 377.5,566.0 379.0,568.8 380.5,571.6 382.0,574.1 383.5,576.5 385.0,578.1 386.5,579.7 388.0,581.3 389.5,583.0 391.0,585.3 392.5,587.5 394.0,588.1 395.5,588.7 397.0,590.8 398.5,592.9 400.0,593.8 401.5,594.4 403.0,595.3 404.5,595.9 406.0,596.2 407.5,596.6 409.0,597.2 410.5,597.8 412.0,597.2 413.5,596.6 415.0,596.8 416.5,597.0 418.0,596.7 419.5,596.4 421.0,597.1 422.5,597.8 424.0,597.6 425.5,597.8 427.0,599.1 428.5,600.8 430.0,601.9 431.5,602.8 433.0,604.0 434.5,605.0 436.0,606.2 437.5,607.3 439.0,607.6 440.5,607.8 442.0,608.5 443.5,609.1 445.0,609.2 446.5,609.2 448.0,609.0 449.5,608.8 451.0,608.5 452.5,608.2 454.0,609.0 455.5,609.7 457.0,609.5 458.5,609.3 460.0,609.6 461.5,609.8 463.0,609.0 464.5,608.1 466.0,608.2 467.5,608.4 469.0,608.3 470.5,608.2 472.0,608.6 473.5,609.0 475.0,609.7 476.5,610.3 478.0,610.2 479.5,610.1 481.0,610.0 482.5,609.8 484.0,609.9 485.5,610.0 487.0,610.3 488.5,610.5 490.0,610.2 491.5,610.0 493.0,610.2 494.5,610.5 496.0,610.4 497.5,610.4 499.0,609.7 500.5,609.0 502.0,609.6 503.5,610.2 505.0,610.7 506.5,611.3 508.0,610.8 509.5,610.3 511.0,610.4 512.5,610.5 514.0,610.4 515.5,610.3 517.0,610.3 518.5,610.4 520.0,610.9 521.5,611.4 523.0,611.0 524.5,610.6 526.0,610.4 527.5,610.2 529.0,609.6 530.5,609.0 532.0,609.7 533.5,610.5 535.0,610.1 536.5,609.7 538.0,609.8" fill="none" stroke="#00f" stroke-width="2.9" stroke-linejoin="round"/>
<text transform="translate(55.50,321.20) scale(0.2580,0.2520)" font-size="100" text-anchor="middle">470</text>
<text transform="translate(170.80,321.20) scale(0.2580,0.2520)" font-size="100" text-anchor="middle">465</text>
<text transform="translate(286.10,321.20) scale(0.2580,0.2520)" font-size="100" text-anchor="middle">460</text>
<text transform="translate(401.40,321.20) scale(0.2580,0.2520)" font-size="100" text-anchor="middle">455</text>
<text transform="translate(516.70,321.20) scale(0.2580,0.2520)" font-size="100" text-anchor="middle">450</text>
<text transform="translate(55.50,650.00) scale(0.2580,0.2520)" font-size="100" text-anchor="middle">470</text>
<text transform="translate(170.80,650.00) scale(0.2580,0.2520)" font-size="100" text-anchor="middle">465</text>
<text transform="translate(286.10,650.00) scale(0.2580,0.2520)" font-size="100" text-anchor="middle">460</text>
<text transform="translate(401.40,650.00) scale(0.2580,0.2520)" font-size="100" text-anchor="middle">455</text>
<text transform="translate(516.70,650.00) scale(0.2580,0.2520)" font-size="100" text-anchor="middle">450</text>
<rect x="74.8" y="30.5" width="70.7" height="38.1" fill="#fff" stroke="#666" stroke-width="1.5"/>
<text transform="translate(76.97,58.50) scale(0.2760,0.2590)" font-size="100"><tspan font-style="italic">cp</tspan>-Ti</text>
<rect x="65" y="362.7" width="191.4" height="37.3" fill="#fff" stroke="#666" stroke-width="1.5"/>
<text transform="translate(71.59,390.80) scale(0.2710,0.2620)" font-size="100"><tspan font-style="italic">cp</tspan>-Ti + 40% HF</text>
<text transform="translate(155.04,109.80) scale(0.2320,0.2240)" font-size="100">Ti 2<tspan font-style="italic">p</tspan><tspan font-size="60" dy="42">1/2</tspan></text>
<text transform="translate(225.74,36.70) scale(0.2320,0.2230)" font-size="100">Ti 2<tspan font-style="italic">p</tspan><tspan font-size="60" dy="42">3/2</tspan></text>
<text transform="translate(328.07,47.40) scale(0.2130,0.2070)" font-size="100">Ti<tspan font-size="60" dy="42">2</tspan><tspan dy="-42">O</tspan><tspan font-size="60" dy="42">3</tspan></text>
<text transform="translate(370.76,104.60) scale(0.2185,0.2080)" font-size="100">TiO</text>
<text transform="translate(416.68,206.60) scale(0.2120,0.2130)" font-size="100">Ti metal</text>
<text transform="translate(399.50,504.55) scale(0.2280,0.2240)" font-size="100">Sputter time:</text>
<text transform="translate(399.88,533.64) scale(0.2300,0.2280)" font-size="100">0 - 10 min</text>
<text transform="translate(185.79,692.90) scale(0.2712,0.2600)" font-size="100">Binding energy [eV]</text>
<text transform="translate(28.70,437.50) rotate(-90) scale(0.2700,0.2890)" font-size="100">Intensity [Arbitrary Units]</text>
</svg>
</body></html>
